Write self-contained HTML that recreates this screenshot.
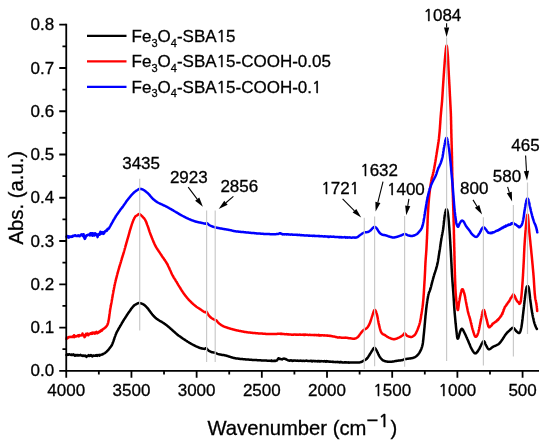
<!DOCTYPE html>
<html><head><meta charset="utf-8"><title>FTIR spectra</title>
<style>
html,body{margin:0;padding:0;background:#fff;}
body{width:550px;height:445px;overflow:hidden;}
svg{display:block;}
text{font-family:'Liberation Sans',Arial,Helvetica,sans-serif;fill:#000;stroke:#000;stroke-width:0.3px;}
.o{font-family:'NanumGothic','Liberation Sans',sans-serif;stroke-width:0.55px;}
</style></head><body>
<svg width="550" height="445" viewBox="0 0 550 445">
<rect width="550" height="445" fill="#fff"/>
<path d="M66.5,355.1 L66.8,355.1 L67.1,354.7 L67.5,354.4 L68.0,354.3 L68.5,354.7 L69.0,354.4 L69.6,354.2 L70.1,354.8 L70.7,354.8 L71.3,355.0 L71.9,354.5 L72.5,354.9 L73.1,354.9 L73.6,354.4 L74.1,355.1 L74.6,355.1 L75.0,355.8 L75.6,355.1 L76.2,355.0 L76.8,355.5 L77.3,355.1 L77.7,355.4 L78.2,355.0 L78.6,355.2 L79.1,355.5 L79.5,355.4 L80.0,355.2 L80.5,354.9 L81.0,355.4 L81.5,355.4 L82.0,355.7 L82.5,355.5 L83.0,355.9 L83.5,355.6 L84.0,355.7 L84.5,355.9 L85.0,355.5 L85.5,356.0 L86.0,356.3 L86.4,356.9 L86.9,355.9 L87.3,355.9 L87.8,355.9 L88.3,355.6 L88.8,355.1 L89.4,356.0 L90.0,355.5 L90.4,355.8 L90.9,355.1 L91.4,355.4 L91.9,356.1 L92.4,356.4 L93.0,355.7 L93.6,355.4 L94.1,355.6 L94.7,355.8 L95.2,355.6 L95.8,355.7 L96.3,355.2 L96.8,355.8 L97.2,355.9 L97.6,355.4 L98.0,355.0 L98.8,355.2 L99.3,355.6 L99.8,354.9 L100.1,355.2 L100.5,354.9 L101.0,354.9 L101.5,354.7 L102.0,354.5 L102.5,354.4 L103.0,354.0 L103.6,353.8 L104.1,353.5 L104.6,353.2 L105.0,352.9 L105.5,352.5 L106.0,352.2 L106.4,351.8 L106.8,351.5 L107.2,351.0 L107.6,350.6 L107.9,350.2 L108.3,349.9 L108.6,349.5 L109.0,349.0 L109.3,348.6 L109.7,348.2 L110.0,347.7 L110.3,347.3 L110.6,346.9 L110.9,346.5 L111.1,346.2 L111.3,345.9 L111.6,345.5 L111.9,345.0 L112.2,344.4 L112.5,343.6 L112.6,343.3 L112.8,342.9 L112.9,342.5 L113.1,342.1 L113.2,341.6 L113.4,341.2 L113.6,340.7 L113.7,340.2 L113.9,339.7 L114.1,339.2 L114.3,338.7 L114.4,338.1 L114.6,337.6 L114.8,337.1 L115.0,336.6 L115.2,336.1 L115.4,335.6 L115.5,335.1 L115.7,334.6 L115.9,334.1 L116.1,333.7 L116.3,333.2 L116.5,332.7 L116.8,332.2 L117.0,331.8 L117.2,331.3 L117.5,330.9 L117.7,330.4 L118.0,330.0 L118.2,329.5 L118.4,329.1 L118.7,328.7 L118.9,328.2 L119.2,327.8 L119.4,327.4 L119.7,327.0 L119.9,326.5 L120.2,326.1 L120.4,325.7 L120.7,325.3 L120.9,324.8 L121.2,324.4 L121.4,323.9 L121.7,323.5 L121.9,323.0 L122.2,322.6 L122.5,322.2 L122.7,321.7 L123.0,321.3 L123.2,320.9 L123.5,320.5 L123.8,320.1 L124.0,319.6 L124.3,319.2 L124.5,318.8 L124.8,318.4 L125.1,317.9 L125.4,317.5 L125.7,317.0 L126.0,316.6 L126.3,316.1 L126.6,315.7 L126.9,315.2 L127.1,314.8 L127.4,314.3 L127.7,313.9 L128.0,313.5 L128.3,313.1 L128.6,312.6 L128.9,312.2 L129.2,311.8 L129.5,311.4 L129.8,310.9 L130.2,310.4 L130.5,310.0 L130.8,309.5 L131.1,309.1 L131.4,308.6 L131.8,308.2 L132.1,307.8 L132.4,307.4 L132.7,307.0 L133.0,306.6 L133.3,306.3 L133.6,306.0 L134.1,305.5 L134.6,305.1 L135.1,304.8 L135.5,304.5 L136.0,304.3 L136.4,304.1 L136.8,303.9 L137.2,303.7 L137.8,303.4 L138.2,303.2 L138.7,303.1 L139.2,303.1 L139.8,303.1 L140.2,303.2 L140.7,303.3 L141.2,303.4 L141.7,303.6 L142.2,303.8 L142.7,304.0 L143.2,304.3 L143.7,304.6 L144.1,304.9 L144.5,305.1 L144.8,305.4 L145.2,305.8 L145.6,306.1 L145.9,306.4 L146.3,306.8 L146.7,307.2 L147.0,307.6 L147.4,308.0 L147.7,308.4 L148.0,308.7 L148.3,309.1 L148.6,309.5 L148.9,310.0 L149.2,310.4 L149.6,310.8 L149.9,311.3 L150.2,311.7 L150.5,312.1 L150.8,312.5 L151.1,312.9 L151.4,313.3 L151.8,313.7 L152.1,314.2 L152.4,314.6 L152.8,315.0 L153.1,315.4 L153.5,315.8 L153.8,316.2 L154.1,316.5 L154.5,316.9 L154.8,317.2 L155.2,317.6 L155.6,317.9 L156.0,318.3 L156.4,318.6 L156.9,318.9 L157.3,319.2 L157.7,319.4 L158.1,319.7 L158.5,320.0 L159.0,320.3 L159.4,320.6 L159.9,320.9 L160.3,321.1 L160.8,321.4 L161.3,321.6 L161.7,321.9 L162.2,322.2 L162.7,322.5 L163.1,322.8 L163.6,323.1 L164.0,323.4 L164.5,323.7 L165.0,324.0 L165.4,324.4 L165.9,324.7 L166.3,325.0 L166.7,325.3 L167.2,325.7 L167.6,326.0 L168.0,326.4 L168.4,326.7 L168.9,327.1 L169.3,327.4 L169.7,327.8 L170.1,328.2 L170.5,328.5 L170.9,328.9 L171.4,329.3 L171.8,329.6 L172.2,330.0 L172.6,330.4 L173.0,330.7 L173.4,331.1 L173.8,331.5 L174.2,331.8 L174.6,332.2 L175.0,332.6 L175.5,333.0 L175.9,333.3 L176.3,333.7 L176.7,334.1 L177.1,334.4 L177.5,334.7 L177.9,335.0 L178.3,335.4 L178.7,335.7 L179.2,335.9 L179.6,336.2 L180.0,336.5 L180.4,336.8 L180.8,337.1 L181.3,337.4 L181.7,337.7 L182.2,338.1 L182.7,338.4 L183.1,338.7 L183.6,339.0 L184.0,339.3 L184.5,339.6 L185.0,339.9 L185.4,340.2 L185.9,340.5 L186.3,340.8 L186.8,341.1 L187.3,341.4 L187.7,341.7 L188.2,342.0 L188.7,342.3 L189.1,342.6 L189.6,342.9 L190.1,343.1 L190.5,343.4 L191.0,343.7 L191.5,344.0 L191.9,344.2 L192.4,344.5 L192.8,344.7 L193.3,344.9 L193.7,345.2 L194.2,345.4 L194.6,345.6 L195.2,345.9 L195.6,346.1 L196.1,346.3 L196.6,346.5 L197.1,346.8 L197.6,347.0 L198.1,347.2 L198.6,347.4 L199.1,347.7 L199.6,347.8 L200.1,348.0 L200.6,348.2 L201.2,348.3 L201.8,348.5 L202.4,348.6 L203.0,348.7 L203.5,348.8 L204.0,348.8 L204.4,348.9 L204.8,348.9 L205.5,348.6 L205.7,348.2 L206.1,348.1 L206.4,348.3 L206.7,348.6 L207.0,349.0 L207.4,349.5 L207.8,349.9 L208.2,350.3 L208.6,350.6 L209.1,350.9 L209.5,351.1 L210.0,351.4 L210.5,351.6 L211.0,351.8 L211.5,352.0 L212.1,352.2 L212.7,352.3 L213.3,352.4 L213.9,352.5 L214.4,352.6 L214.9,352.7 L215.5,352.9 L215.8,353.1 L216.3,353.3 L216.7,353.5 L217.1,353.7 L217.5,353.9 L218.2,354.1 L219.0,354.3 L219.4,354.4 L219.8,354.5 L220.2,354.5 L220.6,354.6 L221.1,354.7 L221.6,354.8 L222.1,354.9 L222.7,354.9 L223.2,355.0 L223.8,355.1 L224.3,355.2 L224.9,355.3 L225.4,355.5 L226.0,355.6 L226.5,355.7 L226.9,355.8 L227.4,356.0 L227.9,356.1 L228.4,356.3 L228.9,356.5 L229.4,356.6 L229.9,356.8 L230.4,356.9 L230.9,357.1 L231.4,357.3 L231.9,357.4 L232.4,357.6 L232.9,357.7 L233.5,357.9 L234.0,358.0 L234.5,358.1 L235.0,358.2 L235.5,358.3 L236.0,358.4 L236.5,358.4 L237.0,358.5 L237.5,358.6 L238.0,358.6 L238.5,358.7 L239.0,358.8 L239.5,358.8 L240.0,358.9 L240.5,358.9 L241.1,359.0 L241.6,359.0 L242.1,359.1 L242.6,359.1 L243.1,359.2 L243.6,359.2 L244.1,359.2 L244.6,359.3 L245.1,359.3 L245.6,359.4 L246.1,359.4 L246.6,359.5 L247.1,359.5 L247.6,359.5 L248.2,359.6 L248.7,359.6 L249.2,359.7 L249.7,359.7 L250.2,359.7 L250.7,359.8 L251.2,359.8 L251.7,359.8 L252.2,359.9 L252.7,359.9 L253.2,359.9 L253.7,360.0 L254.2,360.0 L254.7,360.0 L255.2,360.1 L255.7,360.1 L256.2,360.1 L256.7,360.1 L257.2,360.2 L257.8,360.2 L258.3,360.2 L258.8,360.2 L259.3,360.3 L259.8,360.3 L260.3,360.3 L260.8,360.3 L261.3,360.4 L261.8,360.4 L262.3,360.4 L262.8,360.5 L263.4,360.5 L263.9,360.5 L264.4,360.5 L265.0,360.6 L265.5,360.6 L266.0,360.6 L266.6,360.6 L267.1,360.7 L267.6,360.7 L268.1,360.7 L268.6,360.7 L269.1,360.7 L269.6,360.8 L270.1,360.8 L270.5,360.7 L270.9,360.9 L271.6,360.4 L272.3,360.9 L272.9,360.9 L273.5,360.8 L274.0,361.0 L274.6,360.9 L275.0,360.6 L275.5,360.9 L275.9,360.7 L276.3,360.7 L276.8,360.5 L277.2,360.3 L277.5,359.6 L277.8,359.1 L278.1,358.8 L278.4,358.2 L278.9,358.7 L279.4,358.5 L279.9,359.0 L280.4,359.0 L280.9,359.2 L281.4,359.2 L282.0,359.4 L282.5,359.0 L283.0,358.7 L283.5,358.7 L284.1,358.6 L284.6,358.8 L285.3,358.9 L285.7,359.3 L286.0,359.1 L286.4,359.5 L286.8,359.7 L287.4,359.9 L288.0,360.4 L288.9,360.4 L289.3,360.5 L289.6,360.7 L290.0,360.7 L290.4,360.3 L290.9,360.6 L291.3,360.3 L291.8,360.6 L292.3,360.9 L292.8,360.6 L293.3,360.6 L293.8,360.7 L294.4,360.6 L294.9,360.6 L295.5,360.5 L296.1,360.8 L296.7,360.8 L297.3,360.6 L297.9,360.7 L298.5,360.8 L299.1,360.9 L299.5,360.8 L300.0,360.8 L300.4,360.7 L300.9,360.6 L301.3,360.7 L301.8,360.9 L302.3,360.9 L302.8,360.8 L303.3,360.7 L303.8,360.8 L304.3,361.1 L304.8,361.0 L305.3,360.7 L305.8,360.8 L306.3,360.6 L306.9,360.7 L307.4,360.9 L307.9,360.9 L308.4,361.0 L308.9,361.1 L309.5,361.0 L310.0,361.1 L310.5,360.8 L311.0,360.8 L311.6,361.0 L312.1,361.4 L312.6,361.0 L313.1,360.8 L313.6,361.0 L314.1,361.2 L314.6,360.9 L315.1,361.2 L315.6,361.0 L316.1,361.3 L316.7,361.2 L317.2,361.1 L317.7,361.4 L318.2,361.1 L318.7,361.0 L319.3,361.4 L319.8,361.1 L320.3,361.5 L320.8,361.2 L321.3,361.1 L321.9,361.3 L322.4,361.3 L322.9,361.3 L323.4,361.3 L323.9,361.5 L324.4,361.0 L324.9,361.3 L325.4,361.3 L325.9,361.7 L326.3,361.1 L326.8,361.4 L327.3,361.3 L327.7,361.4 L328.2,361.6 L328.8,361.6 L329.3,361.8 L329.9,361.5 L330.4,361.7 L330.9,361.8 L331.5,361.8 L332.0,361.7 L332.5,361.9 L333.0,361.6 L333.5,362.1 L334.0,361.9 L334.5,361.9 L335.0,362.0 L335.5,362.1 L336.0,362.2 L336.5,362.0 L336.9,362.0 L337.4,362.2 L337.9,362.0 L338.4,361.9 L338.9,362.3 L339.3,362.1 L339.8,362.4 L340.3,362.1 L340.9,361.8 L341.4,362.3 L341.9,362.3 L342.5,362.6 L343.0,362.4 L343.5,362.4 L344.0,362.5 L344.5,362.3 L345.0,362.4 L345.5,362.2 L346.0,362.5 L346.5,362.3 L347.0,362.4 L347.5,362.6 L348.0,362.6 L348.5,362.3 L349.0,362.8 L349.5,362.4 L350.0,362.5 L350.5,362.5 L351.1,362.5 L351.7,362.5 L352.2,362.5 L352.8,362.5 L353.4,362.6 L353.9,362.6 L354.5,362.6 L355.1,362.6 L355.6,362.6 L356.2,362.6 L356.7,362.6 L357.2,362.6 L357.7,362.5 L358.1,362.5 L358.6,362.5 L359.0,362.4 L359.4,362.4 L360.1,362.3 L360.7,362.1 L361.2,362.0 L361.7,361.8 L362.1,361.6 L362.5,361.4 L362.9,361.1 L363.3,360.9 L363.7,360.7 L364.2,360.4 L364.7,360.2 L365.2,359.9 L365.6,359.7 L366.1,359.3 L366.5,359.0 L367.0,358.5 L367.3,358.2 L367.6,357.8 L367.9,357.3 L368.2,356.9 L368.5,356.4 L368.8,355.9 L369.1,355.5 L369.4,355.0 L369.7,354.5 L370.0,354.0 L370.3,353.6 L370.6,353.1 L370.9,352.7 L371.2,352.2 L371.5,351.7 L371.8,351.2 L372.0,350.8 L372.3,350.4 L372.5,350.0 L372.8,349.6 L373.0,349.3 L373.5,348.6 L373.8,348.1 L374.2,347.9 L374.6,347.9 L374.9,348.1 L375.2,348.4 L375.5,348.7 L375.8,349.2 L376.1,349.7 L376.5,350.3 L376.8,350.9 L377.0,351.3 L377.2,351.7 L377.4,352.1 L377.6,352.6 L377.9,353.1 L378.1,353.6 L378.3,354.1 L378.5,354.6 L378.8,355.1 L379.0,355.6 L379.3,356.0 L379.5,356.4 L379.8,356.9 L380.1,357.3 L380.4,357.7 L380.8,358.2 L381.1,358.6 L381.4,358.9 L381.8,359.3 L382.1,359.6 L382.4,359.9 L382.8,360.2 L383.2,360.5 L383.7,360.7 L384.2,360.9 L384.6,361.1 L385.1,361.2 L385.6,361.3 L386.1,361.4 L386.6,361.5 L387.1,361.6 L387.6,361.7 L388.2,361.7 L388.7,361.8 L389.3,361.8 L389.8,361.8 L390.4,361.8 L391.0,361.8 L391.5,361.8 L392.0,361.7 L392.5,361.6 L393.1,361.5 L393.6,361.4 L394.2,361.3 L394.7,361.2 L395.3,361.1 L395.9,361.0 L396.4,360.9 L396.9,360.8 L397.4,360.8 L398.0,360.7 L398.5,360.6 L399.0,360.6 L399.5,360.5 L400.1,360.5 L400.6,360.4 L401.0,360.3 L401.5,360.3 L401.9,360.2 L402.5,360.0 L403.0,359.9 L403.5,359.7 L403.9,359.5 L404.5,359.3 L405.2,359.1 L405.6,359.0 L406.1,359.0 L406.6,358.9 L407.1,358.8 L407.6,358.7 L408.2,358.7 L408.8,358.6 L409.3,358.5 L409.9,358.5 L410.4,358.4 L410.9,358.3 L411.3,358.3 L411.7,358.2 L412.5,358.0 L413.1,357.9 L413.6,357.7 L414.0,357.5 L414.5,357.3 L415.0,357.1 L415.5,356.8 L415.9,356.5 L416.4,356.2 L416.8,355.8 L417.2,355.5 L417.5,355.1 L417.9,354.7 L418.3,354.3 L418.6,353.8 L419.0,353.3 L419.3,352.9 L419.5,352.5 L419.8,352.1 L420.0,351.7 L420.3,351.2 L420.5,350.7 L420.8,350.2 L421.0,349.7 L421.2,349.3 L421.4,348.8 L421.5,348.3 L421.7,347.9 L421.9,347.4 L422.0,346.9 L422.2,346.3 L422.3,345.7 L422.5,345.1 L422.6,344.5 L422.7,344.1 L422.8,343.7 L422.8,343.2 L422.9,342.8 L423.0,342.3 L423.0,341.8 L423.1,341.3 L423.1,340.8 L423.2,340.3 L423.3,339.8 L423.3,339.3 L423.4,338.7 L423.4,338.2 L423.5,337.6 L423.5,337.1 L423.6,336.5 L423.6,336.1 L423.7,335.6 L423.7,335.1 L423.8,334.7 L423.8,334.2 L423.9,333.7 L423.9,333.2 L424.0,332.7 L424.0,332.2 L424.1,331.7 L424.1,331.2 L424.2,330.7 L424.2,330.1 L424.3,329.6 L424.3,329.1 L424.4,328.6 L424.4,328.1 L424.5,327.5 L424.5,327.0 L424.6,326.5 L424.6,326.0 L424.6,325.5 L424.7,325.0 L424.7,324.5 L424.8,324.0 L424.8,323.5 L424.9,323.0 L424.9,322.6 L425.0,322.1 L425.0,321.6 L425.0,321.1 L425.1,320.6 L425.1,320.1 L425.2,319.6 L425.2,319.1 L425.3,318.6 L425.3,318.0 L425.4,317.5 L425.4,317.0 L425.4,316.5 L425.5,316.0 L425.5,315.5 L425.6,315.0 L425.7,314.5 L425.7,314.0 L425.8,313.5 L425.8,313.0 L425.9,312.5 L425.9,312.0 L426.0,311.5 L426.0,311.0 L426.1,310.4 L426.1,309.9 L426.2,309.4 L426.2,308.9 L426.3,308.4 L426.3,307.9 L426.4,307.4 L426.5,306.9 L426.5,306.4 L426.6,305.9 L426.6,305.4 L426.7,304.9 L426.8,304.4 L426.8,304.0 L426.9,303.5 L427.0,302.9 L427.1,302.4 L427.1,301.8 L427.2,301.3 L427.3,300.7 L427.4,300.2 L427.5,299.6 L427.6,299.1 L427.7,298.6 L427.8,298.1 L427.9,297.6 L428.0,297.1 L428.0,296.6 L428.1,296.1 L428.2,295.7 L428.3,295.2 L428.4,294.8 L428.5,294.4 L428.6,294.0 L428.8,293.3 L428.9,292.8 L429.1,292.4 L429.3,292.0 L429.4,291.6 L429.6,291.2 L429.8,290.7 L430.0,290.1 L430.3,289.3 L430.4,289.0 L430.5,288.6 L430.6,288.2 L430.7,287.8 L430.8,287.4 L431.0,286.9 L431.1,286.5 L431.2,286.0 L431.3,285.5 L431.4,285.0 L431.6,284.5 L431.7,284.0 L431.8,283.5 L432.0,282.9 L432.1,282.4 L432.2,281.9 L432.4,281.4 L432.5,280.8 L432.7,280.3 L432.8,279.8 L432.9,279.2 L433.1,278.7 L433.2,278.2 L433.4,277.7 L433.5,277.2 L433.6,276.7 L433.8,276.2 L433.9,275.7 L434.1,275.3 L434.2,274.8 L434.4,274.3 L434.5,273.8 L434.7,273.3 L434.8,272.9 L435.0,272.4 L435.2,271.9 L435.3,271.4 L435.5,270.9 L435.6,270.4 L435.8,269.9 L435.9,269.5 L436.1,269.0 L436.2,268.5 L436.4,267.9 L436.5,267.4 L436.7,266.9 L436.8,266.4 L436.9,265.9 L437.1,265.3 L437.2,264.8 L437.3,264.3 L437.4,263.9 L437.5,263.4 L437.6,262.9 L437.7,262.4 L437.8,261.9 L437.9,261.5 L438.0,261.0 L438.1,260.4 L438.1,259.9 L438.2,259.4 L438.3,258.9 L438.4,258.4 L438.5,257.9 L438.6,257.4 L438.6,256.9 L438.7,256.3 L438.8,255.8 L438.9,255.3 L439.0,254.8 L439.0,254.3 L439.1,253.8 L439.2,253.3 L439.3,252.8 L439.3,252.3 L439.4,251.9 L439.5,251.4 L439.6,250.9 L439.6,250.5 L439.7,250.0 L439.8,249.4 L439.9,248.9 L440.0,248.3 L440.0,247.8 L440.1,247.3 L440.2,246.7 L440.3,246.2 L440.4,245.7 L440.4,245.1 L440.5,244.6 L440.6,244.1 L440.7,243.6 L440.7,243.1 L440.8,242.6 L440.9,242.1 L440.9,241.7 L441.0,241.2 L441.1,240.7 L441.2,240.2 L441.2,239.8 L441.3,239.3 L441.4,238.9 L441.4,238.4 L441.5,238.0 L441.6,237.4 L441.7,236.9 L441.8,236.3 L441.9,235.9 L442.0,235.4 L442.1,234.9 L442.2,234.5 L442.3,234.1 L442.3,233.6 L442.4,233.2 L442.5,232.7 L442.6,232.2 L442.7,231.7 L442.8,231.2 L442.9,230.6 L443.0,230.0 L443.1,229.3 L443.2,228.9 L443.2,228.5 L443.3,228.0 L443.3,227.5 L443.4,227.0 L443.5,226.5 L443.5,226.0 L443.6,225.5 L443.6,224.9 L443.7,224.4 L443.8,223.8 L443.8,223.3 L443.9,222.7 L443.9,222.1 L444.0,221.6 L444.1,221.0 L444.1,220.4 L444.2,219.9 L444.3,219.3 L444.3,218.8 L444.4,218.3 L444.4,217.7 L444.5,217.2 L444.6,216.8 L444.6,216.3 L444.7,215.8 L444.7,215.4 L444.8,215.0 L444.8,214.6 L444.9,214.3 L445.1,213.4 L445.2,212.5 L445.4,211.8 L445.5,211.2 L445.7,210.6 L445.8,210.2 L446.0,209.8 L446.1,209.6 L446.3,209.4 L446.4,209.3 L446.6,209.3 L446.8,209.4 L447.0,209.6 L447.1,209.9 L447.3,210.5 L447.5,211.2 L447.7,212.1 L447.9,213.2 L447.9,213.5 L448.0,213.9 L448.0,214.2 L448.1,214.6 L448.1,215.0 L448.2,215.4 L448.2,215.8 L448.3,216.3 L448.3,216.7 L448.4,217.2 L448.4,217.7 L448.5,218.1 L448.5,218.6 L448.6,219.2 L448.6,219.7 L448.7,220.2 L448.7,220.7 L448.8,221.3 L448.8,221.8 L448.9,222.4 L448.9,223.0 L448.9,223.5 L449.0,224.1 L449.0,224.7 L449.1,225.2 L449.1,225.8 L449.2,226.4 L449.2,227.0 L449.3,227.6 L449.3,228.1 L449.4,228.7 L449.4,229.3 L449.4,229.7 L449.5,230.2 L449.5,230.7 L449.5,231.1 L449.6,231.6 L449.6,232.0 L449.6,232.5 L449.7,233.0 L449.7,233.4 L449.7,233.9 L449.8,234.4 L449.8,234.9 L449.8,235.3 L449.9,235.8 L449.9,236.3 L449.9,236.8 L449.9,237.3 L450.0,237.8 L450.0,238.3 L450.0,238.8 L450.1,239.3 L450.1,239.8 L450.1,240.3 L450.2,240.8 L450.2,241.3 L450.2,241.8 L450.3,242.4 L450.3,242.9 L450.3,243.4 L450.3,243.9 L450.4,244.5 L450.4,245.0 L450.4,245.6 L450.5,246.1 L450.5,246.6 L450.5,247.2 L450.6,247.8 L450.6,248.3 L450.6,248.9 L450.7,249.4 L450.7,250.0 L450.7,250.5 L450.8,250.9 L450.8,251.4 L450.8,251.8 L450.8,252.3 L450.9,252.8 L450.9,253.3 L450.9,253.8 L450.9,254.3 L451.0,254.8 L451.0,255.3 L451.0,255.8 L451.0,256.3 L451.1,256.8 L451.1,257.4 L451.1,257.9 L451.2,258.4 L451.2,258.9 L451.2,259.5 L451.2,260.0 L451.3,260.5 L451.3,261.0 L451.3,261.6 L451.3,262.1 L451.4,262.6 L451.4,263.2 L451.4,263.7 L451.5,264.2 L451.5,264.8 L451.5,265.3 L451.5,265.8 L451.6,266.3 L451.6,266.9 L451.6,267.4 L451.6,267.9 L451.7,268.4 L451.7,268.9 L451.7,269.4 L451.8,269.9 L451.8,270.4 L451.8,270.9 L451.8,271.4 L451.9,271.9 L451.9,272.4 L451.9,272.9 L451.9,273.3 L452.0,273.8 L452.0,274.3 L452.0,274.7 L452.0,275.1 L452.1,275.6 L452.1,276.0 L452.1,276.6 L452.2,277.2 L452.2,277.8 L452.3,278.4 L452.3,279.0 L452.3,279.5 L452.4,280.1 L452.4,280.6 L452.4,281.2 L452.5,281.7 L452.5,282.2 L452.6,282.7 L452.6,283.2 L452.6,283.7 L452.7,284.2 L452.7,284.7 L452.7,285.2 L452.8,285.7 L452.8,286.2 L452.9,286.6 L452.9,287.1 L452.9,287.6 L453.0,288.1 L453.0,288.5 L453.0,289.0 L453.1,289.5 L453.1,290.0 L453.1,290.4 L453.2,290.9 L453.2,291.4 L453.3,291.9 L453.3,292.4 L453.3,292.9 L453.4,293.4 L453.4,293.9 L453.4,294.4 L453.5,294.9 L453.5,295.4 L453.5,295.9 L453.6,296.4 L453.6,296.9 L453.6,297.4 L453.7,297.9 L453.7,298.4 L453.7,298.8 L453.7,299.3 L453.8,299.8 L453.8,300.3 L453.8,300.8 L453.9,301.3 L453.9,301.8 L453.9,302.3 L454.0,302.8 L454.0,303.3 L454.0,303.8 L454.0,304.3 L454.1,304.8 L454.1,305.3 L454.1,305.8 L454.2,306.3 L454.2,306.8 L454.2,307.3 L454.3,307.8 L454.3,308.3 L454.4,308.8 L454.4,309.4 L454.4,309.9 L454.5,310.4 L454.5,310.9 L454.6,311.5 L454.6,312.0 L454.6,312.5 L454.7,313.0 L454.7,313.5 L454.8,314.0 L454.8,314.5 L454.9,315.1 L454.9,315.6 L455.0,316.2 L455.0,316.7 L455.1,317.3 L455.1,317.8 L455.2,318.4 L455.2,319.0 L455.3,319.5 L455.3,320.1 L455.4,320.7 L455.4,321.2 L455.5,321.8 L455.5,322.4 L455.6,322.9 L455.6,323.5 L455.7,324.1 L455.8,324.6 L455.8,325.1 L455.9,325.7 L455.9,326.2 L456.0,326.7 L456.0,327.2 L456.1,327.7 L456.1,328.2 L456.2,328.7 L456.2,329.2 L456.3,329.6 L456.3,330.1 L456.4,330.5 L456.4,330.9 L456.5,331.3 L456.5,331.7 L456.6,332.1 L456.6,332.4 L456.7,333.5 L456.8,334.4 L457.0,335.3 L457.0,336.0 L457.1,336.7 L457.2,337.3 L457.3,337.7 L457.4,338.1 L457.5,338.4 L457.6,338.6 L457.8,338.7 L457.9,338.7 L458.0,338.6 L458.2,338.4 L458.3,338.1 L458.5,337.6 L458.6,337.1 L458.8,336.6 L458.9,336.0 L459.1,335.3 L459.3,334.7 L459.4,334.1 L459.6,333.4 L459.8,332.9 L459.9,332.3 L460.1,331.9 L460.2,331.5 L460.5,330.7 L460.8,330.0 L461.1,329.4 L461.4,329.0 L461.7,328.8 L462.0,328.8 L462.2,328.9 L462.5,329.2 L462.7,329.5 L463.0,329.9 L463.2,330.4 L463.5,330.9 L463.8,331.5 L464.1,332.1 L464.4,332.7 L464.7,333.3 L464.9,333.7 L465.1,334.1 L465.3,334.5 L465.5,334.9 L465.7,335.4 L465.9,335.9 L466.1,336.3 L466.3,336.8 L466.6,337.3 L466.8,337.8 L467.0,338.3 L467.2,338.8 L467.4,339.3 L467.7,339.8 L467.9,340.3 L468.1,340.8 L468.3,341.3 L468.5,341.8 L468.7,342.3 L468.9,342.8 L469.1,343.3 L469.4,343.8 L469.6,344.3 L469.8,344.8 L470.0,345.3 L470.2,345.9 L470.4,346.4 L470.6,346.8 L470.8,347.3 L471.1,347.8 L471.3,348.2 L471.5,348.6 L471.7,349.0 L471.9,349.4 L472.3,350.0 L472.6,350.6 L473.0,351.2 L473.3,351.7 L473.7,352.2 L474.0,352.6 L474.3,352.9 L474.7,353.2 L475.0,353.3 L475.4,353.4 L475.8,353.3 L476.1,353.2 L476.4,352.9 L476.8,352.5 L477.1,352.1 L477.5,351.6 L477.9,351.1 L478.2,350.5 L478.6,349.9 L479.0,349.3 L479.2,348.9 L479.5,348.5 L479.7,348.0 L480.0,347.5 L480.2,347.0 L480.5,346.4 L480.8,345.9 L481.0,345.3 L481.3,344.7 L481.6,344.2 L481.8,343.6 L482.1,343.1 L482.4,342.6 L482.6,342.2 L482.8,341.9 L483.1,341.6 L483.3,341.3 L483.5,341.2 L483.8,341.1 L484.2,341.3 L484.4,341.7 L484.7,342.1 L485.0,342.7 L485.2,343.4 L485.4,344.0 L485.7,344.7 L485.9,345.2 L486.2,345.7 L486.5,346.2 L486.8,346.7 L487.0,347.2 L487.3,347.7 L487.6,348.2 L487.9,348.6 L488.2,348.9 L488.5,349.2 L488.9,349.3 L489.3,349.3 L489.7,349.2 L490.1,349.0 L490.5,348.7 L491.0,348.3 L491.4,348.0 L491.9,347.6 L492.4,347.2 L492.9,346.9 L493.4,346.6 L493.8,346.4 L494.3,346.2 L494.7,346.0 L495.2,345.8 L495.7,345.6 L496.2,345.4 L496.6,345.2 L497.1,344.9 L497.6,344.7 L498.0,344.5 L498.4,344.2 L498.8,343.9 L499.2,343.6 L499.6,343.2 L499.9,342.8 L500.2,342.4 L500.6,342.0 L500.9,341.6 L501.2,341.2 L501.5,340.7 L501.8,340.3 L502.1,339.8 L502.4,339.4 L502.7,339.0 L503.0,338.5 L503.3,338.1 L503.6,337.6 L503.9,337.1 L504.2,336.6 L504.5,336.2 L504.8,335.7 L505.1,335.2 L505.4,334.8 L505.7,334.4 L506.0,334.0 L506.4,333.6 L506.7,333.1 L507.1,332.8 L507.4,332.4 L507.8,332.0 L508.2,331.7 L508.5,331.3 L508.9,331.0 L509.2,330.7 L509.6,330.4 L510.0,330.0 L510.5,329.5 L510.9,329.1 L511.4,328.7 L511.8,328.3 L512.2,328.0 L512.7,327.8 L513.1,327.8 L513.5,327.9 L513.9,328.2 L514.3,328.6 L514.6,329.0 L515.0,329.5 L515.4,330.0 L515.8,330.5 L516.1,331.0 L516.5,331.3 L517.0,331.8 L517.6,332.3 L518.1,332.7 L518.6,333.0 L519.1,333.1 L519.5,332.9 L519.7,332.7 L519.9,332.4 L520.0,332.1 L520.2,331.8 L520.4,331.3 L520.5,330.9 L520.7,330.4 L520.8,329.8 L520.9,329.3 L521.1,328.6 L521.2,328.0 L521.4,327.3 L521.5,326.6 L521.6,326.2 L521.6,325.8 L521.7,325.4 L521.8,325.0 L521.8,324.5 L521.9,324.0 L522.0,323.6 L522.0,323.1 L522.1,322.6 L522.2,322.1 L522.2,321.6 L522.3,321.1 L522.4,320.5 L522.4,320.0 L522.5,319.5 L522.5,318.9 L522.6,318.4 L522.7,317.8 L522.7,317.3 L522.8,316.7 L522.8,316.2 L522.9,315.6 L523.0,315.1 L523.0,314.5 L523.1,314.0 L523.2,313.5 L523.2,313.0 L523.3,312.5 L523.3,312.0 L523.4,311.5 L523.4,311.0 L523.5,310.5 L523.6,310.0 L523.6,309.5 L523.7,308.9 L523.7,308.4 L523.8,307.9 L523.8,307.4 L523.9,306.9 L524.0,306.3 L524.0,305.8 L524.1,305.3 L524.1,304.8 L524.2,304.3 L524.3,303.7 L524.3,303.2 L524.4,302.7 L524.4,302.3 L524.5,301.8 L524.5,301.3 L524.6,300.8 L524.6,300.4 L524.7,299.9 L524.8,299.3 L524.8,298.8 L524.9,298.2 L525.0,297.6 L525.1,297.0 L525.1,296.5 L525.2,295.9 L525.3,295.3 L525.3,294.8 L525.4,294.2 L525.5,293.7 L525.5,293.2 L525.6,292.7 L525.7,292.2 L525.7,291.7 L525.8,291.2 L525.9,290.8 L525.9,290.4 L526.0,290.0 L526.1,289.6 L526.1,289.2 L526.2,288.9 L526.5,287.7 L526.7,287.0 L527.0,286.5 L527.2,286.3 L527.5,286.2 L527.7,286.2 L528.0,286.3 L528.2,286.6 L528.4,287.1 L528.7,287.8 L528.9,288.9 L529.0,289.2 L529.0,289.6 L529.1,290.0 L529.1,290.4 L529.2,290.8 L529.3,291.3 L529.3,291.8 L529.4,292.3 L529.5,292.8 L529.5,293.3 L529.6,293.8 L529.7,294.4 L529.7,295.0 L529.8,295.5 L529.9,296.1 L529.9,296.7 L530.0,297.2 L530.0,297.8 L530.1,298.4 L530.2,298.9 L530.2,299.5 L530.3,300.0 L530.4,300.5 L530.4,301.0 L530.5,301.5 L530.6,302.0 L530.6,302.6 L530.7,303.1 L530.8,303.6 L530.9,304.1 L530.9,304.7 L531.0,305.2 L531.1,305.7 L531.1,306.2 L531.2,306.7 L531.3,307.2 L531.3,307.7 L531.4,308.2 L531.5,308.7 L531.6,309.2 L531.6,309.7 L531.7,310.1 L531.8,310.6 L531.9,311.1 L531.9,311.6 L532.0,312.0 L532.1,312.5 L532.2,313.0 L532.3,313.6 L532.4,314.1 L532.5,314.7 L532.6,315.2 L532.7,315.7 L532.8,316.3 L532.9,316.8 L533.0,317.3 L533.2,317.9 L533.3,318.4 L533.4,318.9 L533.5,319.3 L533.6,319.8 L533.7,320.3 L533.8,320.7 L533.9,321.1 L534.0,321.5 L534.1,321.9 L534.3,322.6 L534.5,323.3 L534.7,323.9 L534.9,324.4 L535.0,324.9 L535.2,325.4 L535.4,325.8 L535.5,326.2 L535.7,326.6 L536.0,327.3 L536.3,327.8 L536.5,328.3 L536.7,328.7 L536.9,329.0" fill="none" stroke="#000000" stroke-width="2.5" stroke-linejoin="round" stroke-linecap="round"/>
<path d="M66.5,339.0 L66.8,337.6 L67.1,338.0 L67.5,337.8 L67.9,338.0 L68.4,337.0 L68.9,337.3 L69.5,337.1 L70.0,336.8 L70.6,336.9 L71.2,336.9 L71.8,336.9 L72.4,336.5 L72.9,337.0 L73.5,336.5 L74.0,335.2 L74.5,337.1 L75.0,336.3 L75.5,336.1 L76.1,336.4 L76.6,336.3 L77.0,336.1 L77.5,335.6 L78.0,336.0 L78.5,335.2 L78.9,336.4 L79.4,335.1 L79.9,335.5 L80.4,335.5 L80.9,335.5 L81.4,335.2 L82.0,335.4 L82.5,333.5 L82.9,334.9 L83.4,334.8 L84.0,335.2 L84.5,337.1 L85.0,336.6 L85.5,335.8 L86.1,333.7 L86.6,334.6 L87.2,333.7 L87.7,333.6 L88.3,335.3 L88.8,334.5 L89.3,334.1 L89.8,334.1 L90.3,333.3 L90.8,333.4 L91.3,333.9 L91.9,332.7 L92.5,333.6 L93.1,332.6 L93.7,333.3 L94.2,332.6 L94.8,333.7 L95.4,333.3 L95.9,332.4 L96.4,331.8 L96.9,332.6 L97.3,333.3 L97.8,332.6 L98.2,332.7 L98.5,332.6 L99.3,331.6 L99.7,331.3 L100.0,331.7 L100.4,330.9 L100.8,331.1 L101.2,330.4 L101.7,330.8 L102.2,329.9 L102.6,329.3 L103.1,329.3 L103.5,328.9 L103.9,328.5 L104.3,328.3 L104.7,328.1 L105.1,327.5 L105.5,327.3 L105.8,327.0 L106.2,326.6 L106.5,326.2 L106.8,325.8 L107.1,325.3 L107.4,324.8 L107.6,324.3 L107.8,323.9 L107.9,323.5 L108.0,323.1 L108.2,322.6 L108.3,322.1 L108.4,321.5 L108.5,320.8 L108.7,320.0 L108.8,319.6 L108.8,319.2 L108.9,318.8 L109.0,318.4 L109.0,317.9 L109.1,317.4 L109.2,317.0 L109.2,316.4 L109.3,315.9 L109.4,315.4 L109.4,314.9 L109.5,314.3 L109.6,313.8 L109.7,313.2 L109.7,312.7 L109.8,312.2 L109.9,311.6 L110.0,311.1 L110.0,310.6 L110.1,310.1 L110.2,309.6 L110.3,309.1 L110.4,308.6 L110.4,308.1 L110.5,307.6 L110.6,307.2 L110.7,306.7 L110.8,306.3 L110.8,305.8 L110.9,305.4 L111.0,304.9 L111.1,304.4 L111.2,303.9 L111.3,303.4 L111.4,302.9 L111.5,302.4 L111.6,301.8 L111.7,301.3 L111.8,300.6 L111.9,300.0 L112.0,299.6 L112.1,299.2 L112.1,298.7 L112.2,298.3 L112.3,297.8 L112.4,297.3 L112.5,296.8 L112.6,296.3 L112.6,295.8 L112.7,295.3 L112.8,294.8 L112.9,294.3 L113.0,293.8 L113.1,293.2 L113.2,292.7 L113.3,292.2 L113.4,291.6 L113.5,291.1 L113.6,290.6 L113.7,290.0 L113.8,289.5 L113.9,288.9 L114.0,288.4 L114.1,287.9 L114.2,287.4 L114.3,286.9 L114.4,286.3 L114.5,285.8 L114.6,285.4 L114.7,284.9 L114.8,284.4 L114.9,283.9 L115.0,283.3 L115.2,282.8 L115.3,282.3 L115.4,281.8 L115.5,281.2 L115.6,280.7 L115.8,280.2 L115.9,279.7 L116.0,279.2 L116.1,278.7 L116.3,278.2 L116.4,277.7 L116.5,277.2 L116.7,276.7 L116.8,276.2 L116.9,275.7 L117.0,275.2 L117.2,274.8 L117.3,274.3 L117.4,273.8 L117.6,273.3 L117.7,272.9 L117.8,272.4 L117.9,271.9 L118.1,271.5 L118.2,271.0 L118.3,270.5 L118.5,269.9 L118.7,269.4 L118.8,268.8 L119.0,268.3 L119.1,267.8 L119.3,267.2 L119.4,266.7 L119.6,266.2 L119.7,265.7 L119.9,265.2 L120.0,264.7 L120.2,264.1 L120.3,263.7 L120.5,263.2 L120.6,262.7 L120.8,262.2 L120.9,261.7 L121.1,261.3 L121.2,260.8 L121.3,260.4 L121.5,259.9 L121.6,259.5 L121.8,258.9 L121.9,258.3 L122.1,257.8 L122.3,257.3 L122.4,256.8 L122.6,256.3 L122.7,255.8 L122.9,255.3 L123.0,254.9 L123.2,254.4 L123.3,253.9 L123.4,253.5 L123.6,253.0 L123.7,252.6 L123.9,252.1 L124.0,251.6 L124.1,251.1 L124.3,250.6 L124.4,250.1 L124.6,249.6 L124.7,249.1 L124.8,248.6 L125.0,248.1 L125.1,247.7 L125.2,247.2 L125.4,246.7 L125.5,246.2 L125.6,245.7 L125.8,245.2 L125.9,244.7 L126.1,244.2 L126.2,243.7 L126.3,243.2 L126.5,242.7 L126.6,242.2 L126.8,241.7 L126.9,241.2 L127.1,240.7 L127.2,240.2 L127.3,239.7 L127.5,239.2 L127.6,238.8 L127.8,238.3 L127.9,237.8 L128.1,237.3 L128.2,236.8 L128.4,236.3 L128.5,235.8 L128.6,235.3 L128.8,234.8 L128.9,234.3 L129.1,233.8 L129.2,233.3 L129.3,232.8 L129.5,232.3 L129.6,231.8 L129.7,231.3 L129.9,230.8 L130.0,230.4 L130.1,229.9 L130.3,229.4 L130.4,228.9 L130.6,228.5 L130.7,228.0 L130.9,227.5 L131.0,227.0 L131.2,226.4 L131.4,225.9 L131.5,225.4 L131.7,224.9 L131.8,224.4 L132.0,223.9 L132.2,223.4 L132.3,222.9 L132.5,222.5 L132.7,222.0 L132.8,221.6 L133.0,221.2 L133.2,220.6 L133.4,220.1 L133.7,219.6 L133.9,219.1 L134.1,218.6 L134.3,218.2 L134.5,217.8 L134.8,217.4 L135.0,217.0 L135.2,216.7 L135.7,216.2 L136.1,215.8 L136.6,215.6 L137.1,215.3 L137.5,215.1 L138.0,214.7 L138.3,214.3 L138.8,214.0 L139.3,214.0 L139.6,214.1 L140.0,214.4 L140.4,214.7 L140.8,215.0 L141.2,215.4 L141.6,215.8 L142.0,216.2 L142.4,216.6 L142.8,216.9 L143.1,217.3 L143.4,217.6 L143.8,218.0 L144.1,218.3 L144.4,218.7 L144.8,219.2 L145.1,219.8 L145.3,220.2 L145.5,220.6 L145.7,221.0 L145.9,221.4 L146.1,221.9 L146.3,222.3 L146.5,222.8 L146.6,223.3 L146.8,223.8 L147.0,224.3 L147.2,224.9 L147.4,225.4 L147.6,225.9 L147.8,226.4 L148.0,226.8 L148.1,227.3 L148.3,227.8 L148.5,228.3 L148.6,228.7 L148.8,229.2 L148.9,229.7 L149.1,230.2 L149.3,230.7 L149.4,231.2 L149.6,231.7 L149.7,232.1 L149.9,232.6 L150.1,233.1 L150.2,233.5 L150.4,234.0 L150.6,234.5 L150.8,235.0 L151.0,235.5 L151.2,236.0 L151.4,236.5 L151.6,237.0 L151.7,237.5 L151.9,237.9 L152.1,238.4 L152.3,238.9 L152.5,239.3 L152.7,239.8 L152.9,240.2 L153.1,240.7 L153.3,241.2 L153.5,241.7 L153.7,242.2 L153.9,242.7 L154.2,243.2 L154.4,243.7 L154.6,244.2 L154.8,244.6 L155.0,245.1 L155.3,245.6 L155.5,246.1 L155.8,246.6 L156.0,247.0 L156.3,247.4 L156.6,247.9 L156.8,248.3 L157.1,248.8 L157.4,249.2 L157.7,249.7 L158.0,250.1 L158.3,250.5 L158.6,251.0 L158.9,251.4 L159.2,251.8 L159.4,252.2 L159.7,252.6 L159.9,252.9 L160.3,253.5 L160.6,253.9 L160.8,254.4 L161.1,254.7 L161.3,255.1 L161.6,255.5 L161.9,256.0 L162.3,256.6 L162.5,257.0 L162.8,257.3 L163.1,257.7 L163.4,258.1 L163.7,258.6 L164.0,259.0 L164.3,259.5 L164.6,259.9 L165.0,260.4 L165.3,260.9 L165.6,261.3 L165.9,261.8 L166.2,262.2 L166.4,262.7 L166.7,263.1 L167.0,263.6 L167.2,264.0 L167.5,264.5 L167.7,264.9 L167.9,265.4 L168.1,265.8 L168.3,266.3 L168.6,266.7 L168.8,267.2 L169.0,267.6 L169.2,268.1 L169.4,268.5 L169.6,269.0 L169.8,269.5 L170.0,269.9 L170.3,270.4 L170.5,270.9 L170.7,271.4 L170.9,271.9 L171.1,272.4 L171.3,272.9 L171.5,273.4 L171.8,273.9 L172.0,274.3 L172.3,274.8 L172.5,275.3 L172.7,275.7 L173.0,276.2 L173.2,276.6 L173.5,277.0 L173.7,277.5 L174.0,277.9 L174.3,278.3 L174.5,278.7 L174.8,279.2 L175.1,279.6 L175.4,280.0 L175.6,280.5 L175.9,280.9 L176.2,281.4 L176.5,281.8 L176.7,282.2 L177.0,282.7 L177.2,283.1 L177.5,283.6 L177.8,284.0 L178.0,284.5 L178.3,284.9 L178.6,285.4 L178.9,285.8 L179.1,286.3 L179.4,286.7 L179.7,287.2 L180.0,287.6 L180.2,288.1 L180.5,288.5 L180.8,289.0 L181.1,289.4 L181.4,289.9 L181.6,290.3 L181.9,290.8 L182.2,291.2 L182.5,291.7 L182.8,292.1 L183.1,292.5 L183.4,293.0 L183.7,293.4 L184.0,293.8 L184.3,294.3 L184.6,294.7 L184.9,295.1 L185.2,295.5 L185.5,295.9 L185.9,296.3 L186.2,296.7 L186.5,297.1 L186.9,297.5 L187.2,297.9 L187.5,298.3 L187.9,298.7 L188.2,299.1 L188.6,299.5 L188.9,299.9 L189.3,300.2 L189.6,300.6 L190.0,301.0 L190.4,301.4 L190.7,301.7 L191.1,302.1 L191.5,302.5 L191.9,302.9 L192.3,303.2 L192.7,303.6 L193.1,304.0 L193.5,304.3 L193.9,304.7 L194.3,305.0 L194.7,305.3 L195.1,305.7 L195.5,306.0 L195.9,306.3 L196.4,306.7 L196.8,307.0 L197.3,307.3 L197.8,307.7 L198.3,308.0 L198.8,308.3 L199.3,308.6 L199.7,308.9 L200.2,309.2 L200.6,309.5 L201.0,309.7 L201.4,310.0 L201.7,310.2 L202.4,310.7 L202.9,311.1 L203.4,311.3 L203.7,311.6 L204.1,311.8 L204.7,312.1 L205.3,312.3 L205.7,312.4 L206.1,311.8 L206.5,311.6 L206.7,311.9 L207.0,312.3 L207.2,312.9 L207.5,313.5 L207.8,314.1 L208.2,314.6 L208.5,315.0 L208.8,315.4 L209.1,315.8 L209.5,316.2 L209.8,316.5 L210.2,316.9 L210.5,317.3 L210.9,317.6 L211.4,318.0 L211.9,318.3 L212.4,318.6 L212.9,318.9 L213.4,319.2 L213.8,319.4 L214.2,319.6 L214.8,319.9 L215.3,320.1 L215.6,320.2 L216.3,320.2 L216.5,320.5 L216.8,320.8 L217.1,321.3 L217.5,321.8 L217.9,322.3 L218.3,322.7 L218.6,323.0 L219.0,323.3 L219.4,323.7 L219.8,324.0 L220.2,324.3 L220.6,324.6 L221.1,324.9 L221.5,325.2 L221.9,325.5 L222.3,325.7 L222.7,325.9 L223.1,326.1 L223.6,326.4 L224.1,326.6 L224.8,326.8 L225.5,327.1 L225.9,327.2 L226.3,327.4 L226.7,327.5 L227.2,327.7 L227.6,327.8 L228.1,328.0 L228.6,328.1 L229.2,328.3 L229.7,328.5 L230.2,328.6 L230.8,328.8 L231.3,328.9 L231.9,329.1 L232.4,329.2 L232.9,329.4 L233.5,329.5 L234.0,329.7 L234.5,329.8 L235.0,329.9 L235.5,330.1 L236.0,330.2 L236.5,330.3 L237.0,330.4 L237.5,330.5 L238.0,330.6 L238.5,330.7 L239.0,330.8 L239.6,330.9 L240.1,331.0 L240.6,331.1 L241.1,331.2 L241.6,331.3 L242.1,331.4 L242.6,331.5 L243.1,331.6 L243.6,331.7 L244.1,331.8 L244.6,331.9 L245.1,331.9 L245.6,332.0 L246.1,332.1 L246.6,332.2 L247.1,332.2 L247.6,332.3 L248.2,332.4 L248.7,332.4 L249.2,332.5 L249.7,332.6 L250.2,332.6 L250.7,332.7 L251.2,332.7 L251.7,332.8 L252.2,332.8 L252.7,332.9 L253.2,333.0 L253.7,333.0 L254.2,333.0 L254.7,333.1 L255.2,333.1 L255.7,333.2 L256.2,333.2 L256.7,333.3 L257.2,333.3 L257.8,333.3 L258.3,333.4 L258.8,333.4 L259.3,333.4 L259.8,333.5 L260.3,333.5 L260.8,333.5 L261.3,333.6 L261.8,333.6 L262.3,333.6 L262.8,333.7 L263.3,333.7 L263.8,333.7 L264.3,333.8 L264.8,333.8 L265.3,333.8 L265.8,333.9 L266.3,333.9 L266.8,333.9 L267.3,334.0 L267.9,334.0 L268.4,334.0 L268.9,334.0 L269.4,334.1 L269.9,334.1 L270.4,334.1 L270.9,334.1 L271.4,334.1 L271.9,334.1 L272.4,334.1 L272.9,334.1 L273.4,334.0 L273.9,334.0 L274.4,334.0 L274.9,334.0 L275.4,333.9 L275.9,333.9 L276.4,333.9 L276.9,333.9 L277.4,333.8 L278.0,333.8 L278.5,333.8 L279.1,333.8 L279.6,333.8 L280.2,333.8 L280.7,333.9 L281.1,333.7 L281.6,333.9 L282.0,333.8 L282.5,333.9 L283.0,333.9 L283.5,333.9 L283.9,333.9 L284.4,334.1 L284.9,334.3 L285.4,334.2 L285.9,334.2 L286.4,334.2 L286.9,334.1 L287.5,334.3 L288.0,334.5 L288.5,334.2 L289.0,334.4 L289.6,334.5 L290.1,334.4 L290.7,334.5 L291.2,334.6 L291.8,334.8 L292.3,334.7 L292.7,334.7 L293.2,334.6 L293.7,334.7 L294.1,334.6 L294.6,334.6 L295.1,334.5 L295.6,334.7 L296.1,334.8 L296.6,334.6 L297.1,334.7 L297.6,334.7 L298.1,334.6 L298.7,334.8 L299.2,334.7 L299.7,334.5 L300.2,334.6 L300.7,334.8 L301.3,334.8 L301.8,334.8 L302.3,334.7 L302.8,334.7 L303.3,334.5 L303.9,334.9 L304.4,334.6 L304.9,334.9 L305.4,334.6 L305.9,334.7 L306.4,334.8 L306.9,334.8 L307.4,334.7 L307.9,334.9 L308.4,334.9 L309.0,334.9 L309.5,334.8 L310.0,334.8 L310.5,334.9 L311.1,334.9 L311.6,334.9 L312.1,335.1 L312.6,335.0 L313.1,334.9 L313.7,334.9 L314.2,335.2 L314.7,335.1 L315.2,335.1 L315.7,335.1 L316.2,335.2 L316.7,335.1 L317.2,335.3 L317.7,335.3 L318.2,334.8 L318.7,335.2 L319.1,335.6 L319.6,335.1 L320.0,335.3 L320.5,335.4 L320.9,335.3 L321.5,335.5 L322.1,335.2 L322.7,335.2 L323.3,335.4 L323.8,335.4 L324.4,335.3 L324.9,335.6 L325.4,335.6 L325.9,335.6 L326.4,335.5 L326.9,335.7 L327.4,335.6 L327.9,335.6 L328.4,335.8 L328.9,335.8 L329.3,335.8 L329.8,335.9 L330.2,335.8 L330.7,335.9 L331.1,335.9 L331.7,336.2 L332.3,336.2 L332.9,336.5 L333.4,336.6 L333.9,336.5 L334.4,336.5 L334.9,336.8 L335.4,336.9 L335.9,337.0 L336.4,337.0 L336.9,337.3 L337.4,337.4 L337.9,337.5 L338.4,337.5 L338.9,337.4 L339.5,337.3 L340.0,337.6 L340.5,337.6 L341.1,337.6 L341.6,337.8 L342.2,337.7 L342.7,337.8 L343.2,337.7 L343.7,337.7 L344.2,337.7 L344.7,337.8 L345.2,337.5 L345.6,337.8 L346.3,337.8 L346.9,337.7 L347.5,337.9 L348.0,338.0 L348.5,338.2 L349.0,338.2 L349.5,338.2 L350.0,338.2 L350.6,338.3 L351.1,338.4 L351.7,338.5 L352.2,338.6 L352.8,338.7 L353.4,338.7 L353.9,338.7 L354.4,338.7 L354.9,338.6 L355.4,338.5 L355.8,338.3 L356.3,338.1 L356.8,337.8 L357.2,337.5 L357.6,337.2 L358.0,336.9 L358.4,336.5 L358.7,336.1 L359.1,335.7 L359.4,335.2 L359.7,334.7 L360.0,334.2 L360.4,333.7 L360.7,333.3 L361.0,332.9 L361.4,332.5 L361.7,332.1 L362.0,331.7 L362.3,331.3 L362.7,330.9 L363.0,330.5 L363.4,330.2 L363.8,329.9 L364.3,329.6 L364.7,329.4 L365.2,329.1 L365.7,328.9 L366.1,328.6 L366.6,328.3 L367.0,327.9 L367.3,327.6 L367.6,327.2 L367.9,326.8 L368.1,326.4 L368.4,326.0 L368.7,325.6 L368.9,325.1 L369.2,324.6 L369.4,324.0 L369.7,323.4 L369.9,323.0 L370.0,322.6 L370.2,322.2 L370.3,321.7 L370.5,321.2 L370.7,320.7 L370.8,320.2 L371.0,319.7 L371.2,319.1 L371.3,318.6 L371.5,318.1 L371.6,317.6 L371.8,317.1 L371.9,316.6 L372.1,316.2 L372.3,315.7 L372.4,315.3 L372.6,314.7 L372.8,314.0 L373.1,313.4 L373.3,312.7 L373.5,312.1 L373.7,311.5 L373.9,311.0 L374.1,310.6 L374.3,310.2 L374.5,310.0 L374.7,309.9 L374.9,309.9 L375.2,310.1 L375.4,310.4 L375.6,310.8 L375.8,311.2 L376.1,311.8 L376.3,312.4 L376.5,313.1 L376.7,313.7 L376.9,314.4 L377.0,314.8 L377.1,315.2 L377.2,315.6 L377.3,316.1 L377.4,316.6 L377.5,317.1 L377.6,317.6 L377.7,318.1 L377.8,318.6 L377.9,319.2 L378.0,319.7 L378.1,320.2 L378.2,320.8 L378.3,321.3 L378.4,321.8 L378.5,322.4 L378.6,322.9 L378.7,323.4 L378.8,323.9 L378.9,324.4 L379.1,325.0 L379.2,325.5 L379.3,326.1 L379.5,326.6 L379.6,327.2 L379.7,327.7 L379.9,328.3 L380.0,328.8 L380.2,329.4 L380.3,329.9 L380.5,330.4 L380.6,330.8 L380.8,331.3 L381.0,331.7 L381.1,332.1 L381.3,332.4 L381.7,333.0 L382.0,333.4 L382.4,333.8 L382.8,334.1 L383.2,334.3 L383.7,334.5 L384.1,334.6 L384.5,334.9 L384.9,335.1 L385.3,335.4 L385.8,335.7 L386.2,336.0 L386.6,336.3 L387.0,336.6 L387.5,336.9 L388.0,337.1 L388.5,337.4 L388.9,337.6 L389.4,337.8 L389.8,338.0 L390.3,338.2 L390.8,338.5 L391.3,338.7 L391.9,338.8 L392.4,339.0 L392.9,339.1 L393.4,339.2 L393.9,339.2 L394.4,339.2 L394.9,339.1 L395.4,339.0 L395.9,338.8 L396.5,338.7 L397.0,338.5 L397.5,338.2 L398.0,338.0 L398.4,337.8 L398.9,337.6 L399.3,337.4 L399.8,337.1 L400.4,336.8 L400.9,336.6 L401.3,336.2 L401.8,335.9 L402.2,335.7 L402.6,335.4 L402.9,335.1 L403.4,334.5 L403.8,333.9 L404.1,333.4 L404.6,333.3 L404.9,333.5 L405.3,333.8 L405.7,334.2 L406.1,334.7 L406.5,335.2 L406.9,335.7 L407.4,336.0 L407.9,336.2 L408.4,336.4 L408.9,336.6 L409.5,336.7 L410.0,336.8 L410.5,336.9 L411.0,336.9 L411.6,336.9 L412.1,336.8 L412.6,336.6 L413.0,336.3 L413.5,336.0 L413.8,335.7 L414.2,335.5 L414.5,335.2 L414.9,334.8 L415.2,334.4 L415.6,333.8 L416.0,333.0 L416.2,332.7 L416.3,332.3 L416.5,331.9 L416.7,331.6 L416.9,331.1 L417.1,330.7 L417.3,330.3 L417.5,329.8 L417.7,329.3 L417.9,328.8 L418.1,328.3 L418.3,327.8 L418.4,327.3 L418.6,326.7 L418.8,326.2 L419.0,325.7 L419.2,325.1 L419.3,324.6 L419.5,324.0 L419.6,323.6 L419.7,323.1 L419.9,322.6 L420.0,322.2 L420.1,321.7 L420.2,321.2 L420.3,320.7 L420.4,320.2 L420.5,319.7 L420.6,319.2 L420.7,318.7 L420.8,318.2 L420.9,317.7 L421.0,317.2 L421.0,316.6 L421.1,316.1 L421.2,315.6 L421.3,315.1 L421.4,314.6 L421.5,314.0 L421.6,313.5 L421.6,313.0 L421.7,312.5 L421.8,312.0 L421.9,311.5 L422.0,311.0 L422.0,310.5 L422.1,310.0 L422.2,309.6 L422.2,309.1 L422.3,308.6 L422.4,308.1 L422.4,307.6 L422.5,307.2 L422.6,306.7 L422.6,306.2 L422.7,305.7 L422.8,305.2 L422.8,304.7 L422.9,304.2 L422.9,303.7 L423.0,303.2 L423.0,302.7 L423.1,302.2 L423.1,301.6 L423.2,301.1 L423.2,300.6 L423.3,300.0 L423.3,299.5 L423.4,299.1 L423.4,298.6 L423.5,298.1 L423.5,297.6 L423.5,297.1 L423.6,296.6 L423.6,296.1 L423.6,295.6 L423.7,295.0 L423.7,294.5 L423.8,294.0 L423.8,293.5 L423.8,292.9 L423.9,292.4 L423.9,291.9 L423.9,291.3 L424.0,290.8 L424.0,290.3 L424.0,289.8 L424.0,289.2 L424.1,288.7 L424.1,288.2 L424.1,287.7 L424.2,287.3 L424.2,286.8 L424.2,286.3 L424.2,285.9 L424.3,285.4 L424.3,285.0 L424.3,284.4 L424.4,283.8 L424.4,283.2 L424.4,282.7 L424.5,282.2 L424.5,281.6 L424.5,281.1 L424.6,280.7 L424.6,280.2 L424.6,279.7 L424.7,279.2 L424.7,278.8 L424.7,278.3 L424.7,277.8 L424.8,277.3 L424.8,276.8 L424.8,276.3 L424.8,275.8 L424.9,275.3 L424.9,274.7 L424.9,274.2 L424.9,273.8 L425.0,273.3 L425.0,272.8 L425.0,272.3 L425.0,271.8 L425.1,271.3 L425.1,270.8 L425.1,270.3 L425.1,269.8 L425.2,269.2 L425.2,268.7 L425.2,268.2 L425.2,267.7 L425.2,267.1 L425.3,266.6 L425.3,266.1 L425.3,265.6 L425.3,265.1 L425.4,264.5 L425.4,264.0 L425.4,263.5 L425.4,263.0 L425.5,262.5 L425.5,262.0 L425.5,261.5 L425.6,261.0 L425.6,260.5 L425.6,260.0 L425.7,259.5 L425.7,259.1 L425.7,258.6 L425.8,258.1 L425.8,257.7 L425.8,257.2 L425.9,256.7 L425.9,256.3 L425.9,255.8 L426.0,255.3 L426.0,254.8 L426.1,254.4 L426.1,253.9 L426.1,253.3 L426.2,252.8 L426.2,252.3 L426.2,251.7 L426.3,251.2 L426.3,250.6 L426.4,250.0 L426.4,249.6 L426.4,249.1 L426.4,248.7 L426.5,248.2 L426.5,247.7 L426.5,247.3 L426.5,246.8 L426.6,246.3 L426.6,245.8 L426.6,245.3 L426.6,244.7 L426.7,244.2 L426.7,243.7 L426.7,243.2 L426.7,242.7 L426.8,242.1 L426.8,241.6 L426.8,241.1 L426.8,240.5 L426.9,240.0 L426.9,239.5 L426.9,238.9 L427.0,238.4 L427.0,237.9 L427.0,237.4 L427.0,236.8 L427.0,236.3 L427.1,235.8 L427.1,235.3 L427.1,234.8 L427.1,234.3 L427.2,233.8 L427.2,233.4 L427.2,232.9 L427.2,232.3 L427.2,231.8 L427.3,231.2 L427.3,230.7 L427.3,230.1 L427.3,229.6 L427.3,229.1 L427.4,228.5 L427.4,228.0 L427.4,227.5 L427.4,227.0 L427.4,226.4 L427.4,225.9 L427.5,225.4 L427.5,224.9 L427.5,224.4 L427.5,223.9 L427.5,223.4 L427.5,222.9 L427.6,222.4 L427.6,221.9 L427.6,221.4 L427.6,220.9 L427.6,220.4 L427.6,219.9 L427.7,219.5 L427.7,219.0 L427.7,218.5 L427.7,218.0 L427.7,217.4 L427.8,216.9 L427.8,216.4 L427.8,215.9 L427.8,215.4 L427.9,214.9 L427.9,214.4 L427.9,213.9 L427.9,213.4 L428.0,212.9 L428.0,212.4 L428.0,211.9 L428.1,211.4 L428.1,210.9 L428.1,210.4 L428.1,209.9 L428.2,209.5 L428.2,209.0 L428.2,208.5 L428.3,208.0 L428.3,207.5 L428.3,207.0 L428.4,206.5 L428.4,206.0 L428.4,205.5 L428.5,205.0 L428.5,204.5 L428.5,204.0 L428.6,203.5 L428.6,203.0 L428.7,202.5 L428.7,202.0 L428.7,201.5 L428.8,201.0 L428.8,200.5 L428.9,200.0 L428.9,199.5 L428.9,198.9 L429.0,198.4 L429.0,197.9 L429.1,197.4 L429.1,196.9 L429.2,196.4 L429.2,195.9 L429.3,195.4 L429.3,194.9 L429.4,194.4 L429.4,193.9 L429.5,193.4 L429.6,192.9 L429.6,192.4 L429.7,191.9 L429.7,191.4 L429.8,190.9 L429.9,190.3 L429.9,189.8 L430.0,189.3 L430.1,188.8 L430.1,188.3 L430.2,187.8 L430.3,187.2 L430.3,186.7 L430.4,186.2 L430.5,185.7 L430.6,185.2 L430.6,184.7 L430.7,184.2 L430.8,183.7 L430.9,183.2 L431.0,182.7 L431.0,182.2 L431.1,181.7 L431.2,181.3 L431.3,180.8 L431.4,180.3 L431.5,179.8 L431.6,179.3 L431.7,178.8 L431.8,178.3 L431.9,177.9 L432.0,177.4 L432.2,177.0 L432.3,176.5 L432.4,176.1 L432.5,175.6 L432.6,175.2 L432.8,174.7 L432.9,174.2 L433.0,173.8 L433.1,173.3 L433.2,172.8 L433.4,172.3 L433.5,171.7 L433.6,171.2 L433.7,170.6 L433.9,170.0 L433.9,169.6 L434.0,169.1 L434.1,168.7 L434.2,168.3 L434.3,167.8 L434.4,167.3 L434.4,166.9 L434.5,166.4 L434.6,165.9 L434.7,165.4 L434.8,164.9 L434.9,164.4 L435.0,163.9 L435.0,163.4 L435.1,162.9 L435.2,162.4 L435.3,161.9 L435.4,161.4 L435.5,160.8 L435.6,160.3 L435.7,159.8 L435.7,159.2 L435.8,158.7 L435.9,158.2 L436.0,157.6 L436.1,157.1 L436.2,156.6 L436.3,156.0 L436.3,155.5 L436.4,155.0 L436.5,154.4 L436.6,153.9 L436.7,153.4 L436.7,153.0 L436.8,152.5 L436.9,152.0 L437.0,151.5 L437.1,151.1 L437.1,150.6 L437.2,150.1 L437.3,149.6 L437.4,149.1 L437.4,148.7 L437.5,148.2 L437.6,147.7 L437.7,147.2 L437.7,146.7 L437.8,146.2 L437.9,145.7 L438.0,145.3 L438.0,144.8 L438.1,144.3 L438.2,143.8 L438.3,143.3 L438.3,142.8 L438.4,142.3 L438.5,141.8 L438.6,141.2 L438.6,140.7 L438.7,140.2 L438.8,139.7 L438.8,139.2 L438.9,138.7 L439.0,138.1 L439.0,137.6 L439.1,137.1 L439.1,136.5 L439.2,136.0 L439.2,135.5 L439.3,135.1 L439.3,134.6 L439.4,134.1 L439.4,133.6 L439.5,133.1 L439.5,132.6 L439.6,132.1 L439.6,131.6 L439.7,131.1 L439.7,130.6 L439.7,130.0 L439.8,129.5 L439.8,129.0 L439.9,128.5 L439.9,127.9 L439.9,127.4 L440.0,126.9 L440.0,126.3 L440.0,125.8 L440.1,125.3 L440.1,124.7 L440.2,124.2 L440.2,123.7 L440.2,123.2 L440.3,122.7 L440.3,122.1 L440.3,121.6 L440.4,121.1 L440.4,120.6 L440.4,120.1 L440.5,119.6 L440.5,119.1 L440.5,118.6 L440.6,118.1 L440.6,117.7 L440.6,117.2 L440.7,116.8 L440.7,116.3 L440.7,115.9 L440.8,115.4 L440.8,115.0 L440.9,114.4 L440.9,113.8 L441.0,113.2 L441.0,112.6 L441.1,112.1 L441.1,111.5 L441.2,111.0 L441.2,110.5 L441.3,110.0 L441.3,109.5 L441.3,109.0 L441.4,108.5 L441.4,108.0 L441.5,107.5 L441.5,107.0 L441.6,106.6 L441.6,106.1 L441.7,105.6 L441.7,105.2 L441.8,104.7 L441.8,104.2 L441.8,103.7 L441.9,103.3 L441.9,102.8 L442.0,102.3 L442.0,101.7 L442.1,101.2 L442.1,100.7 L442.1,100.2 L442.2,99.7 L442.2,99.2 L442.2,98.7 L442.3,98.2 L442.3,97.7 L442.3,97.2 L442.4,96.7 L442.4,96.2 L442.4,95.7 L442.5,95.2 L442.5,94.7 L442.5,94.2 L442.6,93.6 L442.6,93.1 L442.6,92.6 L442.7,92.1 L442.7,91.6 L442.7,91.1 L442.8,90.6 L442.8,90.0 L442.8,89.5 L442.8,89.0 L442.9,88.5 L442.9,88.0 L442.9,87.5 L443.0,87.0 L443.0,86.5 L443.0,86.0 L443.1,85.5 L443.1,85.0 L443.1,84.5 L443.2,84.0 L443.2,83.4 L443.2,82.9 L443.3,82.4 L443.3,81.9 L443.3,81.4 L443.4,80.9 L443.4,80.4 L443.4,79.9 L443.5,79.4 L443.5,78.9 L443.5,78.4 L443.6,77.9 L443.6,77.4 L443.6,76.9 L443.7,76.4 L443.7,75.9 L443.7,75.4 L443.8,74.9 L443.8,74.4 L443.8,73.9 L443.9,73.4 L443.9,72.9 L444.0,72.4 L444.0,71.8 L444.0,71.3 L444.1,70.8 L444.1,70.3 L444.1,69.8 L444.2,69.3 L444.2,68.8 L444.2,68.2 L444.3,67.7 L444.3,67.2 L444.4,66.6 L444.4,66.1 L444.4,65.6 L444.5,65.0 L444.5,64.5 L444.6,63.9 L444.6,63.4 L444.6,62.8 L444.7,62.3 L444.7,61.8 L444.8,61.2 L444.8,60.7 L444.8,60.2 L444.9,59.7 L444.9,59.2 L445.0,58.7 L445.0,58.2 L445.1,57.7 L445.1,57.2 L445.1,56.7 L445.2,56.3 L445.2,55.8 L445.3,55.4 L445.3,55.0 L445.4,54.3 L445.4,53.6 L445.5,52.9 L445.6,52.2 L445.7,51.5 L445.7,50.8 L445.8,50.1 L445.9,49.5 L445.9,48.9 L446.0,48.3 L446.1,47.8 L446.2,47.3 L446.2,46.9 L446.3,46.5 L446.4,46.2 L446.5,46.0 L446.5,45.8 L446.6,45.8 L446.7,45.8 L446.7,46.0 L446.8,46.2 L446.9,46.5 L447.0,46.9 L447.0,47.3 L447.1,47.8 L447.2,48.3 L447.2,48.9 L447.3,49.5 L447.4,50.1 L447.4,50.8 L447.5,51.5 L447.6,52.2 L447.6,52.9 L447.7,53.6 L447.7,54.3 L447.8,55.0 L447.8,55.4 L447.9,55.8 L447.9,56.3 L447.9,56.7 L448.0,57.2 L448.0,57.7 L448.0,58.2 L448.0,58.7 L448.1,59.2 L448.1,59.7 L448.1,60.2 L448.1,60.7 L448.2,61.2 L448.2,61.8 L448.2,62.3 L448.2,62.8 L448.3,63.4 L448.3,63.9 L448.3,64.5 L448.3,65.0 L448.4,65.6 L448.4,66.1 L448.4,66.6 L448.4,67.2 L448.5,67.7 L448.5,68.2 L448.5,68.8 L448.5,69.3 L448.6,69.8 L448.6,70.3 L448.6,70.8 L448.7,71.3 L448.7,71.8 L448.7,72.4 L448.7,72.9 L448.8,73.4 L448.8,73.9 L448.8,74.4 L448.8,74.9 L448.9,75.4 L448.9,75.9 L448.9,76.4 L449.0,76.9 L449.0,77.4 L449.0,77.9 L449.0,78.4 L449.1,78.9 L449.1,79.4 L449.1,79.9 L449.2,80.4 L449.2,80.9 L449.2,81.4 L449.2,81.9 L449.3,82.4 L449.3,82.9 L449.3,83.4 L449.3,84.0 L449.4,84.5 L449.4,85.0 L449.4,85.5 L449.5,86.0 L449.5,86.5 L449.5,87.0 L449.5,87.5 L449.6,88.0 L449.6,88.5 L449.6,89.0 L449.6,89.5 L449.7,90.0 L449.7,90.6 L449.7,91.1 L449.7,91.6 L449.8,92.1 L449.8,92.6 L449.8,93.1 L449.8,93.6 L449.9,94.2 L449.9,94.7 L449.9,95.2 L449.9,95.7 L450.0,96.2 L450.0,96.7 L450.0,97.2 L450.1,97.7 L450.1,98.2 L450.1,98.7 L450.1,99.2 L450.2,99.7 L450.2,100.2 L450.2,100.7 L450.2,101.2 L450.3,101.7 L450.3,102.3 L450.3,102.8 L450.3,103.3 L450.4,103.7 L450.4,104.2 L450.4,104.7 L450.4,105.2 L450.5,105.6 L450.5,106.1 L450.5,106.6 L450.5,107.0 L450.6,107.5 L450.6,108.0 L450.6,108.5 L450.6,109.0 L450.7,109.5 L450.7,110.0 L450.7,110.5 L450.7,111.0 L450.8,111.5 L450.8,112.1 L450.8,112.6 L450.8,113.2 L450.9,113.8 L450.9,114.4 L450.9,115.0 L450.9,115.4 L450.9,115.9 L450.9,116.3 L451.0,116.8 L451.0,117.2 L451.0,117.7 L451.0,118.1 L451.0,118.6 L451.0,119.1 L451.0,119.6 L451.0,120.1 L451.1,120.6 L451.1,121.1 L451.1,121.6 L451.1,122.1 L451.1,122.7 L451.1,123.2 L451.1,123.7 L451.1,124.2 L451.2,124.7 L451.2,125.3 L451.2,125.8 L451.2,126.3 L451.2,126.9 L451.2,127.4 L451.2,127.9 L451.2,128.5 L451.2,129.0 L451.3,129.5 L451.3,130.0 L451.3,130.6 L451.3,131.1 L451.3,131.6 L451.3,132.1 L451.3,132.6 L451.3,133.1 L451.3,133.6 L451.4,134.1 L451.4,134.6 L451.4,135.1 L451.4,135.5 L451.4,136.0 L451.4,136.5 L451.4,137.1 L451.4,137.6 L451.5,138.1 L451.5,138.6 L451.5,139.2 L451.5,139.6 L451.5,140.1 L451.5,140.6 L451.5,141.1 L451.6,141.6 L451.6,142.0 L451.6,142.5 L451.6,143.0 L451.6,143.5 L451.6,143.9 L451.6,144.4 L451.7,144.9 L451.7,145.3 L451.7,145.8 L451.7,146.3 L451.7,146.8 L451.7,147.3 L451.7,147.8 L451.8,148.3 L451.8,148.8 L451.8,149.3 L451.8,149.8 L451.8,150.4 L451.8,150.9 L451.8,151.5 L451.9,152.1 L451.9,152.7 L451.9,153.3 L451.9,153.9 L451.9,154.3 L451.9,154.8 L451.9,155.2 L451.9,155.7 L451.9,156.1 L452.0,156.6 L452.0,157.0 L452.0,157.5 L452.0,158.0 L452.0,158.5 L452.0,159.0 L452.0,159.5 L452.0,160.0 L452.0,160.5 L452.0,161.0 L452.1,161.5 L452.1,162.0 L452.1,162.6 L452.1,163.1 L452.1,163.6 L452.1,164.1 L452.1,164.7 L452.1,165.2 L452.1,165.7 L452.1,166.3 L452.1,166.8 L452.2,167.4 L452.2,167.9 L452.2,168.4 L452.2,169.0 L452.2,169.5 L452.2,170.0 L452.2,170.6 L452.2,171.1 L452.2,171.6 L452.2,172.2 L452.2,172.7 L452.3,173.2 L452.3,173.7 L452.3,174.2 L452.3,174.7 L452.3,175.2 L452.3,175.7 L452.3,176.2 L452.3,176.7 L452.3,177.2 L452.3,177.7 L452.4,178.2 L452.4,178.6 L452.4,179.1 L452.4,179.6 L452.4,180.0 L452.4,180.6 L452.4,181.1 L452.4,181.7 L452.5,182.2 L452.5,182.8 L452.5,183.3 L452.5,183.9 L452.5,184.4 L452.5,184.9 L452.5,185.4 L452.6,185.9 L452.6,186.4 L452.6,187.0 L452.6,187.5 L452.6,187.9 L452.6,188.4 L452.6,188.9 L452.7,189.4 L452.7,189.9 L452.7,190.4 L452.7,190.9 L452.7,191.3 L452.7,191.8 L452.8,192.3 L452.8,192.8 L452.8,193.2 L452.8,193.7 L452.8,194.2 L452.8,194.7 L452.8,195.1 L452.9,195.6 L452.9,196.1 L452.9,196.6 L452.9,197.1 L452.9,197.5 L452.9,198.0 L453.0,198.5 L453.0,199.0 L453.0,199.5 L453.0,200.0 L453.0,200.5 L453.0,201.0 L453.0,201.5 L453.1,202.0 L453.1,202.5 L453.1,203.0 L453.1,203.4 L453.1,203.9 L453.1,204.4 L453.1,204.9 L453.2,205.4 L453.2,205.8 L453.2,206.3 L453.2,206.8 L453.2,207.3 L453.2,207.8 L453.3,208.2 L453.3,208.7 L453.3,209.2 L453.3,209.7 L453.3,210.2 L453.3,210.7 L453.3,211.1 L453.4,211.6 L453.4,212.1 L453.4,212.6 L453.4,213.1 L453.4,213.6 L453.4,214.1 L453.4,214.6 L453.5,215.2 L453.5,215.7 L453.5,216.2 L453.5,216.7 L453.5,217.3 L453.5,217.8 L453.6,218.3 L453.6,218.9 L453.6,219.4 L453.6,220.0 L453.6,220.5 L453.6,220.9 L453.6,221.4 L453.6,221.8 L453.7,222.3 L453.7,222.8 L453.7,223.2 L453.7,223.7 L453.7,224.2 L453.7,224.7 L453.7,225.2 L453.7,225.7 L453.8,226.1 L453.8,226.6 L453.8,227.1 L453.8,227.6 L453.8,228.1 L453.8,228.6 L453.8,229.1 L453.8,229.6 L453.9,230.1 L453.9,230.7 L453.9,231.2 L453.9,231.7 L453.9,232.2 L453.9,232.7 L453.9,233.2 L453.9,233.7 L453.9,234.2 L454.0,234.8 L454.0,235.3 L454.0,235.8 L454.0,236.3 L454.0,236.8 L454.0,237.3 L454.0,237.9 L454.0,238.4 L454.1,238.9 L454.1,239.4 L454.1,239.9 L454.1,240.4 L454.1,240.9 L454.1,241.5 L454.1,242.0 L454.1,242.5 L454.2,243.0 L454.2,243.5 L454.2,244.0 L454.2,244.5 L454.2,245.0 L454.2,245.5 L454.2,246.0 L454.2,246.5 L454.2,247.0 L454.3,247.5 L454.3,248.0 L454.3,248.5 L454.3,249.1 L454.3,249.6 L454.3,250.1 L454.3,250.6 L454.3,251.1 L454.4,251.6 L454.4,252.1 L454.4,252.7 L454.4,253.2 L454.4,253.7 L454.4,254.2 L454.4,254.7 L454.4,255.2 L454.4,255.8 L454.5,256.3 L454.5,256.8 L454.5,257.3 L454.5,257.8 L454.5,258.3 L454.5,258.8 L454.5,259.3 L454.5,259.9 L454.6,260.4 L454.6,260.9 L454.6,261.4 L454.6,261.9 L454.6,262.4 L454.6,262.9 L454.6,263.4 L454.6,263.9 L454.6,264.3 L454.7,264.8 L454.7,265.3 L454.7,265.8 L454.7,266.3 L454.7,266.8 L454.7,267.2 L454.7,267.7 L454.7,268.2 L454.8,268.6 L454.8,269.1 L454.8,269.5 L454.8,270.0 L454.8,270.6 L454.8,271.1 L454.8,271.7 L454.9,272.2 L454.9,272.8 L454.9,273.3 L454.9,273.9 L454.9,274.4 L454.9,275.0 L455.0,275.5 L455.0,276.1 L455.0,276.6 L455.0,277.1 L455.0,277.6 L455.0,278.2 L455.1,278.7 L455.1,279.2 L455.1,279.7 L455.1,280.2 L455.1,280.8 L455.1,281.3 L455.2,281.8 L455.2,282.3 L455.2,282.7 L455.2,283.2 L455.2,283.7 L455.2,284.2 L455.3,284.7 L455.3,285.1 L455.3,285.6 L455.3,286.1 L455.3,286.5 L455.4,287.0 L455.4,287.4 L455.4,287.9 L455.4,288.3 L455.4,288.7 L455.5,289.2 L455.5,289.6 L455.5,290.0 L455.5,290.6 L455.6,291.2 L455.6,291.9 L455.6,292.4 L455.7,293.0 L455.7,293.6 L455.8,294.2 L455.8,294.7 L455.8,295.3 L455.9,295.8 L455.9,296.3 L456.0,296.8 L456.0,297.3 L456.1,297.8 L456.1,298.3 L456.1,298.8 L456.2,299.2 L456.2,299.7 L456.3,300.1 L456.3,300.6 L456.4,301.0 L456.4,301.4 L456.5,301.8 L456.5,302.2 L456.6,302.6 L456.6,303.0 L456.7,303.7 L456.8,304.5 L456.9,305.2 L457.0,305.9 L457.0,306.6 L457.1,307.3 L457.2,307.9 L457.3,308.4 L457.4,308.9 L457.5,309.3 L457.6,309.7 L457.7,309.9 L457.8,310.0 L457.9,310.0 L458.0,309.9 L458.0,309.7 L458.1,309.5 L458.2,309.1 L458.2,308.8 L458.3,308.3 L458.4,307.8 L458.4,307.3 L458.5,306.7 L458.6,306.1 L458.7,305.5 L458.7,304.9 L458.8,304.2 L458.9,303.6 L459.0,302.9 L459.1,302.3 L459.2,301.7 L459.3,301.1 L459.4,300.7 L459.5,300.2 L459.6,299.7 L459.7,299.1 L459.8,298.6 L459.9,298.0 L460.0,297.4 L460.1,296.8 L460.2,296.2 L460.3,295.6 L460.5,295.0 L460.6,294.4 L460.7,293.8 L460.8,293.3 L461.0,292.7 L461.1,292.2 L461.2,291.7 L461.3,291.3 L461.4,290.8 L461.6,290.4 L461.7,290.1 L461.8,289.8 L461.9,289.6 L462.0,289.4 L462.3,289.2 L462.5,289.2 L462.8,289.4 L463.0,289.8 L463.3,290.4 L463.5,291.0 L463.7,291.7 L464.0,292.5 L464.2,293.2 L464.4,293.9 L464.5,294.3 L464.6,294.7 L464.7,295.1 L464.8,295.6 L464.9,296.1 L465.0,296.6 L465.1,297.1 L465.2,297.6 L465.3,298.1 L465.4,298.7 L465.5,299.2 L465.6,299.7 L465.7,300.3 L465.8,300.8 L465.9,301.3 L466.0,301.9 L466.1,302.4 L466.2,302.9 L466.3,303.4 L466.4,303.9 L466.5,304.4 L466.6,304.9 L466.7,305.5 L466.8,306.0 L466.9,306.5 L467.0,307.0 L467.1,307.5 L467.2,308.0 L467.3,308.5 L467.4,309.0 L467.5,309.5 L467.6,310.0 L467.7,310.5 L467.8,311.0 L467.9,311.4 L468.0,311.9 L468.1,312.4 L468.3,312.9 L468.4,313.4 L468.5,313.9 L468.7,314.3 L468.8,314.8 L468.9,315.2 L469.1,315.6 L469.2,316.1 L469.4,316.5 L469.5,317.0 L469.6,317.5 L469.8,318.0 L469.9,318.5 L470.1,319.1 L470.2,319.5 L470.3,320.0 L470.4,320.5 L470.6,320.9 L470.7,321.4 L470.8,322.0 L470.9,322.5 L471.0,323.0 L471.2,323.5 L471.3,324.1 L471.4,324.6 L471.6,325.2 L471.7,325.7 L471.8,326.2 L471.9,326.8 L472.1,327.3 L472.2,327.8 L472.3,328.2 L472.4,328.7 L472.6,329.2 L472.7,329.6 L472.9,330.2 L473.1,330.8 L473.2,331.4 L473.4,332.0 L473.6,332.6 L473.8,333.2 L474.0,333.8 L474.1,334.3 L474.3,334.8 L474.5,335.3 L474.7,335.7 L474.9,336.0 L475.0,336.3 L475.2,336.5 L475.4,336.7 L475.7,336.8 L476.0,336.8 L476.3,336.6 L476.6,336.3 L476.9,335.9 L477.2,335.4 L477.5,334.7 L477.8,333.9 L478.1,333.1 L478.2,332.8 L478.3,332.4 L478.4,332.0 L478.5,331.6 L478.6,331.1 L478.7,330.7 L478.9,330.2 L479.0,329.7 L479.1,329.2 L479.2,328.7 L479.3,328.1 L479.4,327.6 L479.5,327.0 L479.6,326.5 L479.7,325.9 L479.8,325.3 L479.9,324.8 L480.0,324.2 L480.2,323.7 L480.3,323.1 L480.4,322.6 L480.5,322.1 L480.6,321.6 L480.7,321.1 L480.8,320.6 L480.9,320.1 L481.0,319.5 L481.2,318.9 L481.3,318.3 L481.4,317.7 L481.5,317.0 L481.7,316.4 L481.8,315.8 L481.9,315.1 L482.0,314.5 L482.1,313.9 L482.3,313.3 L482.4,312.8 L482.5,312.3 L482.6,311.8 L482.8,311.3 L482.9,310.9 L483.0,310.6 L483.1,310.3 L483.3,310.1 L483.4,309.9 L483.5,309.8 L483.7,309.8 L483.8,309.9 L484.0,310.1 L484.1,310.4 L484.3,310.8 L484.5,311.2 L484.6,311.7 L484.8,312.3 L484.9,312.9 L485.1,313.6 L485.2,314.2 L485.4,314.9 L485.6,315.5 L485.7,316.2 L485.9,316.8 L486.0,317.4 L486.2,317.9 L486.3,318.4 L486.5,318.9 L486.6,319.5 L486.8,320.1 L486.9,320.7 L487.1,321.3 L487.2,321.9 L487.4,322.5 L487.5,323.1 L487.6,323.7 L487.8,324.2 L487.9,324.7 L488.1,324.8 L488.2,326.1 L488.4,326.4 L488.6,326.6 L488.7,326.8 L488.9,327.2 L489.3,326.9 L489.6,327.3 L490.0,326.9 L490.4,326.3 L490.8,326.2 L491.2,325.7 L491.6,325.5 L492.1,324.8 L492.5,323.8 L492.9,323.4 L493.3,323.6 L493.7,323.3 L494.1,322.8 L494.5,322.4 L494.9,322.4 L495.3,321.8 L495.7,321.6 L496.2,321.6 L496.6,321.1 L497.0,320.4 L497.3,320.0 L497.7,319.9 L498.0,320.0 L498.3,319.1 L498.6,319.4 L499.0,318.4 L499.3,318.1 L499.6,318.0 L500.0,317.2 L500.3,317.0 L500.6,316.2 L500.9,316.3 L501.2,316.0 L501.5,315.0 L501.7,314.8 L502.0,314.2 L502.2,313.3 L502.4,314.1 L502.6,313.1 L502.8,312.6 L503.0,312.0 L503.2,311.4 L503.4,311.4 L503.6,309.9 L503.8,309.7 L504.0,309.2 L504.2,308.8 L504.4,308.5 L504.6,307.7 L504.8,307.1 L505.0,306.7 L505.3,306.6 L505.6,306.2 L505.9,305.7 L506.2,305.5 L506.5,304.5 L506.9,304.4 L507.2,304.0 L507.5,303.3 L507.8,302.8 L508.1,302.8 L508.4,302.1 L508.6,301.8 L508.9,301.3 L509.2,301.4 L509.5,300.5 L509.8,299.9 L510.1,299.5 L510.3,299.0 L510.6,298.7 L510.8,297.8 L511.0,297.6 L511.3,297.6 L511.6,297.3 L512.0,296.2 L512.3,296.0 L512.7,295.3 L513.0,294.5 L513.4,294.8 L513.7,294.6 L514.0,295.3 L514.2,295.3 L514.5,295.8 L514.7,296.0 L514.9,296.9 L515.2,297.0 L515.5,298.1 L515.7,299.0 L516.0,298.8 L516.3,299.8 L516.6,300.4 L516.9,300.6 L517.3,301.4 L517.6,301.7 L517.9,302.0 L518.2,302.0 L518.5,302.5 L518.8,302.6 L519.3,303.9 L519.8,303.5 L520.3,303.0 L520.7,301.2 L520.8,301.6 L520.8,300.6 L520.9,300.9 L520.9,300.5 L521.0,299.8 L521.0,299.4 L521.1,299.0 L521.1,298.6 L521.2,298.1 L521.2,297.7 L521.3,297.2 L521.4,296.7 L521.4,296.2 L521.5,295.7 L521.5,295.1 L521.6,294.6 L521.6,294.0 L521.7,293.5 L521.7,292.9 L521.8,292.3 L521.8,291.7 L521.9,291.1 L521.9,290.5 L522.0,289.9 L522.0,289.3 L522.1,288.7 L522.1,288.1 L522.2,287.5 L522.2,286.9 L522.3,286.3 L522.3,285.7 L522.3,285.3 L522.4,284.8 L522.4,284.4 L522.4,283.9 L522.5,283.5 L522.5,283.0 L522.5,282.6 L522.6,282.1 L522.6,281.6 L522.6,281.2 L522.7,280.7 L522.7,280.2 L522.7,279.7 L522.7,279.2 L522.8,278.8 L522.8,278.3 L522.8,277.8 L522.9,277.3 L522.9,276.8 L522.9,276.3 L523.0,275.8 L523.0,275.3 L523.0,274.7 L523.0,274.2 L523.1,273.7 L523.1,273.2 L523.1,272.7 L523.2,272.2 L523.2,271.6 L523.2,271.1 L523.2,270.6 L523.3,270.1 L523.3,269.5 L523.3,269.0 L523.4,268.5 L523.4,268.0 L523.4,267.4 L523.5,266.9 L523.5,266.3 L523.5,265.8 L523.5,265.3 L523.6,264.7 L523.6,264.2 L523.6,263.7 L523.7,263.2 L523.7,262.8 L523.7,262.3 L523.7,261.8 L523.8,261.3 L523.8,260.8 L523.8,260.3 L523.8,259.8 L523.8,259.4 L523.9,258.9 L523.9,258.4 L523.9,257.9 L523.9,257.4 L524.0,256.8 L524.0,256.3 L524.0,255.8 L524.0,255.3 L524.0,254.8 L524.1,254.3 L524.1,253.8 L524.1,253.3 L524.1,252.8 L524.2,252.3 L524.2,251.7 L524.2,251.2 L524.2,250.7 L524.3,250.2 L524.3,249.7 L524.3,249.2 L524.3,248.6 L524.4,248.1 L524.4,247.6 L524.4,247.1 L524.4,246.6 L524.5,246.1 L524.5,245.5 L524.5,245.0 L524.6,244.5 L524.6,244.0 L524.6,243.5 L524.7,243.0 L524.7,242.5 L524.7,241.9 L524.8,241.4 L524.8,240.9 L524.8,240.4 L524.9,239.9 L524.9,239.4 L524.9,238.9 L525.0,238.4 L525.0,237.8 L525.1,237.3 L525.1,236.7 L525.2,236.1 L525.2,235.5 L525.2,234.9 L525.3,234.3 L525.3,233.7 L525.4,233.0 L525.4,232.4 L525.5,231.8 L525.5,231.1 L525.6,230.5 L525.6,229.8 L525.7,229.2 L525.8,228.5 L525.8,227.9 L525.9,227.2 L525.9,226.6 L526.0,226.0 L526.0,225.3 L526.1,224.7 L526.1,224.1 L526.2,223.5 L526.3,222.9 L526.3,222.3 L526.4,221.8 L526.4,221.2 L526.5,220.7 L526.5,220.2 L526.6,219.7 L526.6,219.2 L526.7,218.7 L526.7,218.2 L526.8,217.8 L526.9,217.4 L526.9,217.0 L527.0,216.7 L527.0,216.3 L527.1,216.0 L527.1,215.7 L527.2,215.5 L527.2,215.3 L527.3,215.1 L527.3,214.9 L527.4,214.8 L527.4,214.7 L527.5,214.6 L527.5,214.6 L527.6,214.7 L527.6,214.8 L527.7,214.9 L527.8,215.1 L527.8,215.4 L527.9,215.7 L527.9,216.1 L528.0,216.5 L528.0,216.9 L528.1,217.4 L528.1,217.9 L528.2,218.5 L528.2,219.0 L528.3,219.6 L528.4,220.3 L528.4,220.9 L528.5,221.6 L528.5,222.3 L528.6,222.9 L528.6,223.7 L528.7,224.4 L528.7,225.1 L528.8,225.8 L528.8,226.5 L528.9,227.3 L528.9,228.0 L529.0,228.7 L529.1,229.4 L529.1,230.1 L529.2,230.7 L529.2,231.4 L529.3,232.0 L529.3,232.4 L529.4,232.9 L529.4,233.3 L529.5,233.8 L529.5,234.2 L529.6,234.7 L529.6,235.2 L529.7,235.7 L529.7,236.2 L529.8,236.6 L529.8,237.1 L529.9,237.6 L529.9,238.1 L530.0,238.7 L530.0,239.2 L530.1,239.7 L530.2,240.2 L530.2,240.7 L530.3,241.3 L530.3,241.8 L530.4,242.3 L530.4,242.9 L530.5,243.4 L530.5,243.9 L530.6,244.5 L530.6,245.0 L530.7,245.5 L530.7,246.1 L530.8,246.6 L530.9,247.1 L530.9,247.7 L531.0,248.2 L531.0,248.7 L531.1,249.3 L531.1,249.8 L531.2,250.3 L531.2,250.8 L531.3,251.3 L531.3,251.9 L531.4,252.4 L531.4,252.9 L531.5,253.4 L531.5,253.9 L531.6,254.3 L531.6,254.8 L531.7,255.3 L531.7,255.8 L531.8,256.2 L531.8,256.7 L531.9,257.3 L531.9,257.8 L532.0,258.4 L532.0,258.9 L532.1,259.5 L532.1,260.0 L532.2,260.6 L532.2,261.1 L532.3,261.6 L532.3,262.2 L532.4,262.7 L532.4,263.2 L532.5,263.7 L532.5,264.2 L532.6,264.7 L532.6,265.2 L532.7,265.7 L532.7,266.2 L532.8,266.7 L532.8,267.2 L532.8,267.7 L532.9,268.2 L532.9,268.7 L533.0,269.2 L533.0,269.7 L533.1,270.2 L533.1,270.6 L533.1,271.1 L533.2,271.6 L533.2,272.1 L533.3,272.6 L533.3,273.1 L533.4,273.6 L533.4,274.1 L533.4,274.5 L533.5,275.0 L533.5,275.5 L533.6,276.0 L533.6,276.5 L533.6,277.0 L533.7,277.6 L533.7,278.1 L533.8,278.6 L533.8,279.2 L533.8,279.7 L533.9,280.2 L533.9,280.8 L533.9,281.3 L534.0,281.9 L534.0,282.4 L534.0,283.0 L534.1,283.5 L534.1,284.1 L534.1,284.6 L534.2,285.2 L534.2,285.7 L534.2,286.2 L534.3,286.8 L534.3,287.3 L534.3,287.8 L534.4,288.3 L534.4,288.9 L534.4,289.4 L534.5,289.9 L534.5,290.4 L534.5,290.8 L534.6,291.3 L534.6,291.8 L534.6,292.3 L534.7,292.7 L534.7,293.2 L534.7,293.6 L534.8,294.0 L534.8,294.4 L534.9,294.8 L534.9,295.2 L535.0,295.9 L535.1,296.6 L535.1,297.2 L535.2,297.8 L535.3,298.4 L535.4,299.0 L535.5,299.5 L535.6,300.0 L535.7,300.4 L535.8,300.9 L535.9,301.3 L536.0,301.8 L536.1,302.2 L536.1,302.6 L536.2,303.0 L536.3,303.4 L536.4,303.8 L536.4,304.2 L536.5,304.6 L536.6,305.3 L536.7,305.9 L536.8,306.5 L536.8,307.2 L536.9,307.8 L537.0,308.3 L537.0,308.9 L537.1,309.4 L537.1,309.8 L537.1,310.3 L537.2,310.6 L537.2,310.9" fill="none" stroke="#ff0000" stroke-width="2.5" stroke-linejoin="round" stroke-linecap="round"/>
<path d="M66.5,236.6 L66.8,237.2 L67.1,235.9 L67.5,237.1 L67.9,236.3 L68.4,236.3 L68.9,237.6 L69.5,236.5 L70.0,236.4 L70.6,236.8 L71.2,237.0 L71.8,236.3 L72.4,236.7 L72.9,235.7 L73.5,236.1 L74.0,236.0 L74.5,235.4 L75.0,235.3 L75.5,235.2 L76.1,236.0 L76.6,236.0 L77.1,235.9 L77.7,236.0 L78.2,235.2 L78.7,235.9 L79.1,236.0 L79.6,236.3 L80.1,235.3 L80.6,235.5 L81.1,234.5 L81.5,235.3 L82.0,234.3 L82.5,234.7 L83.1,236.2 L83.6,234.2 L84.1,237.4 L84.7,238.9 L85.2,238.2 L85.7,237.0 L86.2,235.6 L86.7,235.9 L87.1,235.1 L87.6,234.9 L88.0,234.8 L88.6,234.6 L89.1,235.1 L89.6,234.6 L90.0,235.4 L90.4,233.3 L90.9,233.3 L91.4,233.5 L92.0,233.3 L92.4,235.8 L92.9,233.2 L93.4,234.4 L93.9,234.2 L94.4,235.5 L95.0,233.2 L95.5,235.0 L96.1,233.9 L96.6,234.8 L97.1,235.6 L97.6,237.1 L98.0,235.0 L98.6,234.0 L99.2,233.9 L99.8,234.6 L100.4,231.8 L100.9,233.9 L101.4,233.4 L101.8,232.4 L102.2,232.7 L102.9,232.1 L103.3,233.9 L104.0,233.5 L104.4,232.6 L104.8,231.8 L105.3,231.1 L105.8,230.8 L106.3,230.3 L106.8,230.9 L107.3,229.4 L107.7,228.8 L108.1,229.3 L108.5,228.9 L108.8,228.5 L109.1,228.1 L109.4,227.6 L109.6,227.2 L109.8,226.8 L110.1,226.3 L110.3,225.9 L110.6,225.5 L110.8,225.0 L111.1,224.6 L111.3,224.1 L111.6,223.7 L111.8,223.2 L112.1,222.8 L112.3,222.4 L112.6,221.9 L112.8,221.5 L113.1,221.0 L113.3,220.5 L113.6,220.1 L113.8,219.6 L114.1,219.2 L114.4,218.8 L114.6,218.3 L114.9,217.8 L115.2,217.4 L115.4,217.0 L115.7,216.5 L115.9,216.1 L116.2,215.7 L116.5,215.2 L116.9,214.7 L117.2,214.3 L117.5,213.8 L117.9,213.4 L118.2,212.9 L118.5,212.5 L118.7,212.1 L119.0,211.7 L119.3,211.3 L119.6,210.9 L119.9,210.5 L120.2,210.0 L120.5,209.6 L120.8,209.2 L121.1,208.8 L121.5,208.4 L121.8,207.9 L122.2,207.5 L122.5,207.0 L122.9,206.6 L123.2,206.1 L123.5,205.7 L123.8,205.2 L124.1,204.8 L124.4,204.3 L124.8,203.8 L125.1,203.4 L125.4,202.9 L125.7,202.5 L126.0,202.0 L126.3,201.6 L126.6,201.1 L127.0,200.7 L127.3,200.2 L127.6,199.8 L128.0,199.4 L128.3,198.9 L128.6,198.5 L129.0,198.1 L129.3,197.7 L129.6,197.3 L130.0,196.9 L130.3,196.5 L130.6,196.1 L131.0,195.7 L131.3,195.3 L131.6,194.9 L132.0,194.6 L132.3,194.2 L132.7,193.8 L133.1,193.4 L133.5,193.0 L133.9,192.6 L134.3,192.3 L134.7,191.9 L135.1,191.6 L135.5,191.3 L136.0,190.9 L136.5,190.6 L137.0,190.3 L137.5,190.0 L137.9,189.7 L138.3,189.5 L138.9,189.1 L139.3,188.9 L140.0,188.8 L140.4,188.9 L140.9,188.9 L141.4,189.1 L141.9,189.2 L142.4,189.4 L143.0,189.7 L143.6,190.0 L144.0,190.2 L144.4,190.5 L144.8,190.8 L145.2,191.1 L145.6,191.4 L146.1,191.7 L146.5,192.1 L146.9,192.5 L147.4,192.8 L147.8,193.2 L148.2,193.6 L148.5,193.9 L148.9,194.3 L149.2,194.7 L149.6,195.1 L149.9,195.5 L150.3,195.9 L150.6,196.3 L151.0,196.7 L151.3,197.1 L151.7,197.5 L152.0,197.9 L152.4,198.3 L152.7,198.6 L153.1,199.0 L153.5,199.4 L154.0,199.7 L154.4,200.1 L154.8,200.4 L155.2,200.7 L155.6,201.1 L156.0,201.4 L156.5,201.6 L156.9,201.9 L157.3,202.2 L157.8,202.5 L158.2,202.7 L158.7,203.0 L159.1,203.2 L159.6,203.4 L160.0,203.6 L160.4,203.8 L160.9,204.0 L161.3,204.2 L161.8,204.4 L162.3,204.6 L162.7,204.8 L163.2,205.1 L163.6,205.3 L164.1,205.5 L164.6,205.7 L165.0,205.9 L165.5,206.1 L165.9,206.4 L166.4,206.6 L166.9,206.8 L167.3,207.1 L167.8,207.3 L168.2,207.6 L168.7,207.8 L169.1,208.1 L169.5,208.3 L170.0,208.6 L170.4,208.8 L170.9,209.1 L171.4,209.4 L171.8,209.6 L172.3,209.9 L172.7,210.2 L173.2,210.4 L173.7,210.7 L174.1,211.0 L174.6,211.3 L175.0,211.5 L175.5,211.8 L176.0,212.1 L176.4,212.3 L176.9,212.6 L177.3,212.9 L177.8,213.2 L178.2,213.4 L178.7,213.7 L179.1,214.0 L179.6,214.2 L180.0,214.5 L180.4,214.8 L180.9,215.0 L181.3,215.2 L181.8,215.5 L182.2,215.7 L182.7,216.0 L183.1,216.2 L183.6,216.4 L184.0,216.7 L184.5,216.9 L185.0,217.1 L185.4,217.4 L185.9,217.6 L186.3,217.8 L186.8,218.0 L187.3,218.3 L187.7,218.5 L188.2,218.7 L188.6,218.9 L189.1,219.1 L189.6,219.3 L190.1,219.5 L190.6,219.7 L191.1,220.0 L191.6,220.2 L192.1,220.4 L192.6,220.5 L193.1,220.7 L193.6,220.9 L194.1,221.1 L194.6,221.2 L195.1,221.4 L195.6,221.5 L196.2,221.7 L196.7,221.8 L197.2,221.9 L197.7,222.1 L198.2,222.2 L198.7,222.3 L199.2,222.4 L199.8,222.5 L200.3,222.6 L200.8,222.7 L201.3,222.8 L201.8,222.9 L202.3,223.0 L202.7,223.1 L203.4,223.3 L204.0,223.4 L204.6,223.6 L205.1,223.7 L205.5,223.7 L206.1,223.3 L206.6,223.0 L207.0,223.2 L207.4,223.5 L207.8,223.9 L208.2,224.3 L208.6,224.6 L209.0,224.9 L209.4,225.2 L210.0,225.5 L210.4,225.7 L210.9,225.9 L211.4,226.1 L212.0,226.3 L212.5,226.5 L213.1,226.7 L213.6,226.9 L214.1,227.1 L214.6,227.2 L215.1,227.3 L215.6,227.4 L216.1,227.6 L216.7,227.7 L217.3,227.8 L217.8,227.9 L218.2,228.0 L218.7,228.1 L219.2,228.2 L219.8,228.3 L220.3,228.4 L220.9,228.5 L221.5,228.6 L222.1,228.7 L222.7,228.8 L223.2,228.9 L223.7,229.0 L224.2,229.1 L224.7,229.2 L225.2,229.2 L225.8,229.3 L226.3,229.4 L226.9,229.5 L227.4,229.6 L228.0,229.7 L228.5,229.8 L229.0,229.9 L229.5,230.0 L230.0,230.1 L230.6,230.2 L231.1,230.3 L231.5,230.4 L232.0,230.6 L232.4,230.7 L232.9,230.8 L233.3,230.9 L233.8,231.0 L234.3,231.1 L234.9,231.2 L235.5,231.3 L235.9,231.4 L236.3,231.4 L236.8,231.5 L237.3,231.5 L237.7,231.6 L238.2,231.6 L238.7,231.7 L239.3,231.7 L239.8,231.8 L240.3,231.8 L240.8,231.9 L241.4,231.9 L241.9,232.0 L242.4,232.0 L243.0,232.1 L243.5,232.1 L244.0,232.2 L244.5,232.2 L245.0,232.3 L245.5,232.3 L246.0,232.4 L246.5,232.4 L247.0,232.5 L247.5,232.5 L248.0,232.6 L248.5,232.6 L249.0,232.7 L249.6,232.7 L250.1,232.8 L250.6,232.8 L251.1,232.9 L251.6,232.9 L252.1,233.0 L252.6,233.0 L253.1,233.1 L253.6,233.1 L254.1,233.1 L254.6,233.2 L255.1,233.2 L255.6,233.3 L256.1,233.3 L256.6,233.4 L257.1,233.4 L257.6,233.4 L258.1,233.5 L258.7,233.5 L259.2,233.6 L259.7,233.6 L260.2,233.6 L260.7,233.7 L261.2,233.7 L261.7,233.7 L262.2,233.8 L262.7,233.8 L263.2,233.8 L263.7,233.9 L264.3,233.9 L264.8,233.9 L265.3,233.9 L265.8,234.0 L266.4,234.0 L266.9,234.0 L267.4,234.1 L268.0,234.1 L268.5,234.1 L269.0,234.1 L269.5,234.1 L270.0,234.2 L270.5,234.2 L270.9,234.2 L271.4,234.2 L271.8,234.2 L272.4,234.2 L273.0,234.2 L273.7,234.2 L274.2,234.2 L274.8,234.2 L275.3,234.2 L275.9,234.2 L276.4,234.1 L276.8,234.1 L277.2,234.1 L277.6,234.0 L278.0,234.0 L278.8,233.8 L279.2,233.5 L279.5,233.3 L280.0,233.2 L280.4,233.2 L280.8,233.4 L281.2,233.9 L281.7,233.9 L282.3,233.9 L283.0,234.5 L283.4,234.3 L283.7,234.2 L284.1,234.2 L284.4,234.4 L284.8,234.2 L285.2,234.2 L285.7,234.2 L286.1,234.3 L286.6,234.5 L287.2,234.3 L287.8,234.2 L288.5,234.5 L289.2,234.5 L290.0,234.6 L290.4,234.7 L290.8,234.5 L291.2,234.5 L291.6,234.6 L292.0,234.5 L292.5,234.7 L292.9,234.8 L293.4,234.7 L293.9,234.7 L294.4,234.7 L294.9,234.7 L295.4,234.7 L295.9,234.8 L296.4,234.8 L297.0,234.9 L297.5,234.8 L298.1,235.0 L298.6,235.0 L299.2,234.9 L299.7,234.8 L300.3,235.1 L300.8,235.3 L301.4,235.1 L302.0,235.2 L302.5,235.2 L303.1,235.4 L303.6,235.2 L304.2,235.5 L304.8,235.4 L305.3,235.5 L305.9,235.5 L306.4,235.5 L306.9,235.3 L307.4,235.5 L307.8,235.5 L308.3,235.7 L308.8,235.7 L309.3,235.6 L309.8,235.7 L310.3,235.8 L310.8,235.7 L311.3,235.7 L311.8,235.7 L312.3,235.9 L312.8,235.9 L313.3,235.7 L313.8,235.9 L314.3,235.8 L314.8,235.8 L315.3,236.1 L315.8,236.1 L316.4,235.9 L316.9,236.0 L317.4,236.1 L317.9,236.0 L318.4,236.1 L318.9,236.2 L319.4,235.9 L319.9,236.2 L320.4,236.3 L320.9,236.3 L321.5,236.1 L322.0,236.3 L322.5,236.2 L323.0,236.4 L323.5,236.4 L324.0,236.4 L324.5,236.3 L325.0,236.4 L325.5,236.6 L326.0,236.4 L326.6,236.6 L327.1,236.6 L327.7,236.5 L328.2,236.9 L328.7,236.6 L329.3,236.9 L329.9,236.4 L330.4,236.4 L331.0,236.8 L331.5,236.8 L332.1,236.7 L332.6,236.8 L333.2,236.6 L333.7,236.8 L334.3,236.8 L334.8,236.9 L335.4,237.1 L335.9,237.0 L336.4,237.0 L336.9,236.9 L337.4,237.0 L337.9,237.1 L338.4,237.1 L338.9,237.3 L339.4,237.0 L339.8,237.4 L340.3,237.1 L340.7,237.3 L341.2,237.1 L341.6,237.4 L342.0,237.3 L342.3,237.3 L342.7,237.4 L343.6,237.3 L344.3,237.2 L345.0,237.1 L345.6,237.6 L346.1,237.3 L346.6,237.4 L347.1,237.5 L347.5,237.7 L347.9,237.3 L348.3,237.5 L348.7,237.4 L349.1,237.6 L349.5,237.3 L350.0,237.5 L350.6,237.6 L351.2,237.7 L351.7,237.8 L352.3,237.5 L352.9,237.6 L353.5,237.6 L354.0,237.5 L354.5,237.5 L355.1,237.7 L355.5,237.6 L356.0,237.6 L356.4,237.6 L357.0,237.2 L357.5,237.1 L358.0,236.8 L358.3,236.5 L358.7,236.2 L359.1,235.8 L359.5,235.5 L360.0,235.2 L360.4,234.8 L360.9,234.5 L361.4,234.2 L361.9,233.8 L362.3,233.5 L362.7,233.3 L363.2,233.0 L363.7,232.7 L364.1,232.6 L364.6,232.4 L365.1,232.3 L365.6,232.3 L366.2,232.2 L366.7,232.2 L367.3,232.1 L367.8,232.0 L368.3,231.8 L368.7,231.6 L369.1,231.4 L369.6,231.1 L370.0,230.8 L370.4,230.5 L370.8,230.2 L371.1,229.8 L371.5,229.4 L371.9,229.0 L372.2,228.6 L372.6,228.2 L372.9,227.9 L373.4,227.5 L373.9,227.1 L374.3,226.9 L374.8,226.9 L375.3,227.1 L375.7,227.4 L376.2,227.9 L376.7,228.5 L377.0,228.8 L377.2,229.2 L377.5,229.7 L377.8,230.2 L378.1,230.7 L378.4,231.1 L378.7,231.6 L379.0,232.0 L379.3,232.4 L379.7,232.9 L380.1,233.3 L380.5,233.6 L380.9,234.0 L381.3,234.2 L381.8,234.5 L382.3,234.7 L382.8,234.8 L383.3,234.9 L383.9,235.0 L384.5,235.1 L385.0,235.2 L385.6,235.3 L386.1,235.4 L386.6,235.6 L387.1,235.8 L387.6,235.9 L388.0,236.1 L388.5,236.3 L389.0,236.5 L389.5,236.6 L390.0,236.8 L390.6,236.9 L391.1,237.1 L391.7,237.2 L392.2,237.4 L392.8,237.5 L393.3,237.5 L393.8,237.5 L394.4,237.4 L394.9,237.3 L395.5,237.2 L396.0,237.1 L396.6,236.9 L397.1,236.8 L397.6,236.7 L398.1,236.5 L398.5,236.4 L399.0,236.2 L399.5,236.0 L399.9,235.9 L400.4,235.7 L400.9,235.5 L401.4,235.3 L401.8,235.1 L402.3,234.8 L402.8,234.6 L403.3,234.4 L403.8,234.2 L404.2,234.0 L404.7,234.0 L405.2,234.1 L405.6,234.2 L406.1,234.4 L406.6,234.6 L407.1,234.9 L407.5,235.1 L408.0,235.3 L408.5,235.5 L409.1,235.6 L409.6,235.7 L410.2,235.8 L410.7,235.9 L411.3,235.9 L411.8,235.9 L412.4,235.9 L412.9,235.8 L413.4,235.7 L413.9,235.5 L414.4,235.4 L414.9,235.1 L415.4,234.9 L415.8,234.7 L416.2,234.5 L416.7,234.2 L417.0,234.0 L417.4,233.7 L417.7,233.3 L418.1,233.0 L418.5,232.5 L418.8,232.2 L419.1,231.8 L419.4,231.5 L419.7,231.1 L420.1,230.7 L420.4,230.3 L420.7,229.9 L421.1,229.4 L421.3,228.9 L421.6,228.4 L421.8,228.0 L421.9,227.6 L422.1,227.2 L422.2,226.8 L422.4,226.3 L422.5,225.9 L422.6,225.4 L422.8,225.0 L422.9,224.4 L423.0,223.9 L423.1,223.3 L423.3,222.7 L423.4,222.1 L423.5,221.7 L423.6,221.2 L423.7,220.8 L423.7,220.3 L423.8,219.8 L423.9,219.3 L424.0,218.8 L424.1,218.3 L424.2,217.8 L424.3,217.2 L424.3,216.7 L424.4,216.2 L424.5,215.6 L424.6,215.1 L424.7,214.5 L424.8,214.0 L424.9,213.4 L424.9,212.9 L425.0,212.3 L425.1,211.8 L425.2,211.3 L425.3,210.8 L425.4,210.3 L425.5,209.8 L425.5,209.3 L425.6,208.7 L425.7,208.2 L425.8,207.7 L425.9,207.2 L425.9,206.7 L426.0,206.2 L426.1,205.7 L426.2,205.2 L426.3,204.7 L426.3,204.2 L426.4,203.7 L426.5,203.2 L426.6,202.6 L426.7,202.1 L426.8,201.6 L426.9,201.1 L427.0,200.6 L427.1,200.1 L427.2,199.6 L427.3,199.1 L427.4,198.6 L427.5,198.1 L427.6,197.6 L427.7,197.0 L427.8,196.5 L428.0,196.0 L428.1,195.5 L428.2,195.0 L428.3,194.5 L428.4,194.0 L428.5,193.5 L428.7,193.0 L428.8,192.5 L428.9,192.0 L429.0,191.5 L429.1,191.1 L429.3,190.6 L429.4,190.2 L429.5,189.8 L429.7,189.2 L429.8,188.7 L430.0,188.1 L430.2,187.6 L430.4,187.1 L430.5,186.7 L430.7,186.2 L430.9,185.8 L431.0,185.3 L431.2,184.9 L431.4,184.4 L431.6,184.0 L431.8,183.5 L432.0,183.1 L432.2,182.6 L432.4,182.1 L432.6,181.7 L432.8,181.2 L433.1,180.8 L433.3,180.3 L433.5,179.9 L433.8,179.4 L434.0,178.9 L434.3,178.5 L434.5,178.0 L434.7,177.6 L435.0,177.1 L435.2,176.7 L435.4,176.3 L435.6,175.8 L435.8,175.4 L436.0,174.9 L436.2,174.4 L436.4,173.9 L436.6,173.3 L436.7,172.8 L436.9,172.3 L437.0,171.8 L437.2,171.4 L437.3,170.9 L437.5,170.4 L437.7,169.9 L437.8,169.5 L438.0,169.0 L438.2,168.5 L438.4,168.0 L438.6,167.6 L438.8,167.1 L439.1,166.7 L439.3,166.2 L439.5,165.8 L439.7,165.3 L439.9,164.9 L440.1,164.4 L440.3,164.0 L440.5,163.5 L440.7,163.0 L440.9,162.6 L441.0,162.1 L441.2,161.7 L441.3,161.3 L441.5,160.8 L441.6,160.4 L441.8,159.9 L441.9,159.3 L442.1,158.8 L442.2,158.2 L442.4,157.5 L442.5,157.1 L442.6,156.7 L442.7,156.2 L442.7,155.7 L442.8,155.2 L442.9,154.7 L443.0,154.2 L443.1,153.7 L443.2,153.1 L443.2,152.6 L443.3,152.0 L443.4,151.4 L443.5,150.9 L443.6,150.3 L443.7,149.8 L443.7,149.2 L443.8,148.7 L443.9,148.2 L444.0,147.7 L444.1,147.2 L444.2,146.7 L444.3,146.1 L444.4,145.5 L444.6,144.9 L444.7,144.3 L444.8,143.6 L444.9,142.9 L445.1,142.3 L445.2,141.6 L445.3,141.0 L445.5,140.4 L445.6,139.9 L445.7,139.4 L445.9,138.9 L446.0,138.5 L446.1,138.2 L446.2,138.0 L446.4,137.9 L446.5,137.8 L446.6,137.8 L446.8,138.0 L446.9,138.2 L447.0,138.5 L447.1,138.8 L447.3,139.2 L447.4,139.7 L447.5,140.2 L447.6,140.8 L447.8,141.4 L447.9,142.0 L448.0,142.7 L448.1,143.3 L448.2,144.0 L448.4,144.7 L448.5,145.4 L448.6,146.0 L448.7,146.7 L448.8,147.1 L448.8,147.5 L448.9,148.0 L449.0,148.4 L449.0,148.9 L449.1,149.3 L449.2,149.8 L449.2,150.3 L449.3,150.8 L449.3,151.3 L449.4,151.8 L449.5,152.3 L449.5,152.8 L449.6,153.3 L449.6,153.8 L449.7,154.3 L449.8,154.9 L449.8,155.4 L449.9,155.9 L449.9,156.4 L450.0,157.0 L450.0,157.5 L450.1,158.0 L450.1,158.5 L450.2,159.1 L450.2,159.6 L450.3,160.1 L450.3,160.6 L450.4,161.1 L450.5,161.6 L450.5,162.1 L450.6,162.7 L450.6,163.2 L450.7,163.7 L450.7,164.3 L450.8,164.8 L450.8,165.4 L450.9,165.9 L450.9,166.4 L451.0,167.0 L451.0,167.5 L451.1,168.1 L451.1,168.6 L451.1,169.1 L451.2,169.7 L451.2,170.2 L451.3,170.7 L451.3,171.2 L451.4,171.7 L451.4,172.2 L451.5,172.7 L451.5,173.2 L451.5,173.7 L451.6,174.2 L451.6,174.6 L451.7,175.1 L451.7,175.5 L451.8,176.1 L451.8,176.7 L451.9,177.2 L451.9,177.8 L452.0,178.3 L452.0,178.8 L452.1,179.3 L452.1,179.7 L452.2,180.2 L452.2,180.6 L452.2,181.1 L452.3,181.5 L452.3,182.0 L452.4,182.4 L452.4,182.9 L452.5,183.4 L452.5,183.9 L452.6,184.4 L452.6,185.0 L452.6,185.5 L452.7,185.9 L452.7,186.4 L452.7,186.8 L452.8,187.3 L452.8,187.8 L452.9,188.3 L452.9,188.8 L452.9,189.3 L453.0,189.8 L453.0,190.3 L453.0,190.8 L453.1,191.3 L453.1,191.8 L453.1,192.3 L453.2,192.8 L453.2,193.3 L453.3,193.9 L453.3,194.4 L453.3,194.9 L453.4,195.4 L453.4,196.0 L453.5,196.5 L453.5,197.0 L453.5,197.5 L453.6,198.0 L453.6,198.5 L453.7,199.0 L453.7,199.5 L453.7,200.1 L453.8,200.6 L453.8,201.1 L453.9,201.6 L453.9,202.2 L454.0,202.7 L454.0,203.3 L454.0,203.8 L454.1,204.3 L454.1,204.9 L454.2,205.4 L454.2,205.9 L454.3,206.4 L454.3,206.9 L454.3,207.4 L454.4,207.9 L454.4,208.3 L454.5,208.8 L454.5,209.3 L454.6,209.7 L454.6,210.1 L454.7,210.7 L454.7,211.4 L454.8,212.0 L454.9,212.5 L454.9,213.1 L455.0,213.6 L455.0,214.1 L455.1,214.6 L455.2,215.1 L455.2,215.5 L455.3,216.0 L455.4,216.4 L455.4,216.9 L455.5,217.3 L455.5,217.8 L455.6,218.2 L455.7,218.8 L455.8,219.4 L455.8,219.9 L455.9,220.5 L456.0,221.1 L456.1,221.6 L456.1,222.1 L456.2,222.6 L456.3,223.1 L456.4,223.5 L456.5,223.9 L456.6,224.3 L456.9,225.1 L457.2,225.8 L457.5,226.4 L457.8,226.7 L458.1,226.8 L458.3,226.6 L458.5,226.2 L458.8,225.7 L459.0,225.1 L459.2,224.4 L459.4,223.8 L459.7,223.3 L460.0,222.8 L460.3,222.2 L460.7,221.7 L461.0,221.3 L461.4,220.9 L461.7,220.7 L462.2,220.6 L462.7,220.8 L463.2,221.1 L463.7,221.7 L463.9,222.0 L464.2,222.4 L464.4,222.8 L464.6,223.3 L464.9,223.8 L465.1,224.3 L465.4,224.9 L465.7,225.4 L465.9,225.8 L466.2,226.3 L466.5,226.7 L466.8,227.1 L467.1,227.5 L467.4,227.9 L467.7,228.3 L468.0,228.7 L468.4,229.1 L468.7,229.5 L469.0,229.9 L469.3,230.3 L469.6,230.7 L469.9,231.1 L470.2,231.6 L470.5,232.0 L470.7,232.4 L471.0,232.9 L471.3,233.3 L471.6,233.7 L472.0,234.1 L472.3,234.4 L472.7,234.8 L473.1,235.2 L473.6,235.6 L474.1,236.0 L474.5,236.3 L475.0,236.6 L475.5,236.8 L475.9,236.9 L476.3,236.9 L476.7,236.8 L477.1,236.5 L477.4,236.2 L477.8,235.8 L478.1,235.4 L478.4,234.9 L478.8,234.4 L479.1,233.9 L479.4,233.4 L479.7,233.0 L480.0,232.5 L480.2,232.0 L480.5,231.5 L480.8,231.0 L481.0,230.5 L481.2,230.0 L481.5,229.5 L481.7,229.1 L481.9,228.8 L482.3,228.1 L482.7,227.7 L483.0,227.4 L483.4,227.3 L483.8,227.4 L484.2,227.6 L484.6,228.0 L485.0,228.4 L485.4,228.8 L485.7,229.2 L486.1,229.7 L486.4,230.2 L486.7,230.7 L487.1,231.2 L487.4,231.6 L487.8,232.0 L488.2,232.8 L488.7,232.5 L489.1,233.0 L489.6,233.1 L490.1,232.9 L490.6,233.2 L491.1,232.6 L491.7,233.1 L492.3,232.4 L492.8,232.3 L493.3,232.4 L493.8,232.3 L494.3,232.1 L494.8,231.9 L495.4,231.4 L495.9,230.9 L496.4,231.1 L496.9,230.9 L497.4,230.3 L498.0,230.6 L498.5,230.2 L499.0,229.6 L499.5,229.7 L500.0,229.0 L500.4,228.9 L500.9,229.0 L501.4,228.1 L501.8,228.3 L502.3,227.6 L502.7,228.0 L503.2,227.3 L503.7,227.3 L504.1,226.6 L504.6,226.7 L505.0,226.8 L505.4,226.4 L505.9,225.5 L506.3,226.1 L506.8,225.8 L507.3,225.3 L507.9,225.5 L508.4,224.6 L509.0,224.7 L509.5,224.9 L510.0,224.7 L510.5,224.6 L511.0,223.7 L511.5,223.3 L512.0,223.7 L512.5,223.1 L512.9,223.4 L513.4,223.0 L513.9,223.8 L514.4,224.0 L514.9,224.2 L515.3,224.4 L515.8,224.7 L516.3,224.9 L516.8,225.4 L517.3,225.8 L517.8,226.2 L518.3,226.3 L518.8,227.2 L519.2,226.9 L519.7,227.2 L520.2,226.9 L520.6,226.0 L521.0,225.8 L521.3,225.5 L521.6,225.2 L521.8,224.7 L522.0,224.2 L522.3,223.5 L522.4,223.1 L522.5,222.7 L522.6,222.3 L522.7,221.8 L522.9,221.3 L523.0,220.8 L523.1,220.3 L523.2,219.7 L523.3,219.2 L523.4,218.6 L523.5,218.0 L523.6,217.5 L523.7,217.0 L523.8,216.6 L523.8,216.1 L523.9,215.6 L524.0,215.1 L524.0,214.6 L524.1,214.1 L524.2,213.6 L524.2,213.1 L524.3,212.6 L524.4,212.1 L524.4,211.5 L524.5,211.0 L524.6,210.5 L524.7,210.0 L524.8,209.5 L524.8,209.0 L524.9,208.5 L525.0,207.9 L525.1,207.4 L525.2,206.9 L525.3,206.3 L525.4,205.8 L525.5,205.3 L525.5,204.8 L525.6,204.3 L525.7,203.8 L525.8,203.4 L525.9,203.0 L526.0,202.3 L526.2,201.7 L526.3,201.1 L526.5,200.5 L526.6,200.0 L526.8,199.5 L526.9,199.1 L527.1,198.8 L527.2,198.6 L527.5,198.5 L527.9,198.8 L528.3,199.5 L528.6,200.4 L528.7,200.8 L528.8,201.1 L528.9,201.6 L529.0,202.0 L529.1,202.5 L529.2,203.0 L529.3,203.6 L529.4,204.1 L529.5,204.7 L529.6,205.3 L529.8,205.9 L529.9,206.5 L530.0,206.9 L530.1,207.4 L530.2,207.8 L530.3,208.3 L530.4,208.8 L530.6,209.3 L530.7,209.8 L530.8,210.3 L530.9,210.9 L531.0,211.4 L531.2,211.9 L531.3,212.4 L531.4,212.9 L531.5,213.4 L531.7,213.9 L531.8,214.3 L531.9,214.8 L532.0,215.3 L532.2,215.9 L532.3,216.4 L532.5,217.0 L532.6,217.5 L532.8,218.0 L532.9,218.5 L533.1,219.0 L533.3,219.5 L533.4,220.0 L533.6,220.5 L533.7,220.9 L533.9,221.4 L534.0,221.8 L534.2,222.4 L534.4,222.9 L534.6,223.4 L534.8,223.9 L535.1,224.4 L535.3,224.9 L535.5,225.3 L535.6,225.8 L535.8,226.3 L536.0,226.8 L536.1,227.3 L536.3,227.8 L536.4,228.4 L536.6,229.0 L536.7,229.6 L536.8,230.1 L537.0,230.7 L537.1,231.2 L537.2,231.6 L537.2,232.0 L537.3,232.3" fill="none" stroke="#0000ff" stroke-width="2.5" stroke-linejoin="round" stroke-linecap="round"/>
<line x1="139.70" y1="178.7" x2="139.70" y2="330.6" stroke="#cacaca" stroke-width="1.2"/>
<line x1="206.60" y1="210.5" x2="206.60" y2="362.0" stroke="#cacaca" stroke-width="1.2"/>
<line x1="215.20" y1="210.5" x2="215.20" y2="362.0" stroke="#cacaca" stroke-width="1.2"/>
<line x1="364.30" y1="217.7" x2="364.30" y2="369.0" stroke="#cacaca" stroke-width="1.2"/>
<line x1="374.60" y1="216.5" x2="374.60" y2="366.2" stroke="#cacaca" stroke-width="1.2"/>
<line x1="404.60" y1="216.0" x2="404.60" y2="366.7" stroke="#cacaca" stroke-width="1.2"/>
<line x1="446.60" y1="37.5" x2="446.60" y2="361.1" stroke="#cacaca" stroke-width="1.2"/>
<line x1="483.40" y1="217.2" x2="483.40" y2="365.5" stroke="#cacaca" stroke-width="1.2"/>
<line x1="513.40" y1="204.9" x2="513.40" y2="356.5" stroke="#cacaca" stroke-width="1.2"/>
<line x1="527.50" y1="182.5" x2="527.50" y2="334.0" stroke="#cacaca" stroke-width="1.2"/>
<path d="M66.25,24.70 V370.80 H538.10" fill="none" stroke="#000" stroke-width="1.8" stroke-linecap="square"/>
<path d="M66.25,370.80 v7.0 M98.84,370.80 v3.8 M131.44,370.80 v7.0 M164.03,370.80 v3.8 M196.63,370.80 v7.0 M229.22,370.80 v3.8 M261.82,370.80 v7.0 M294.41,370.80 v3.8 M327.01,370.80 v7.0 M359.61,370.80 v3.8 M392.20,370.80 v7.0 M424.80,370.80 v3.8 M457.39,370.80 v7.0 M489.99,370.80 v3.8 M522.58,370.80 v7.0 M66.25,370.80 h-7.0 M66.25,349.17 h-3.8 M66.25,327.54 h-7.0 M66.25,305.91 h-3.8 M66.25,284.28 h-7.0 M66.25,262.65 h-3.8 M66.25,241.02 h-7.0 M66.25,219.39 h-3.8 M66.25,197.76 h-7.0 M66.25,176.13 h-3.8 M66.25,154.50 h-7.0 M66.25,132.87 h-3.8 M66.25,111.24 h-7.0 M66.25,89.61 h-3.8 M66.25,67.98 h-7.0 M66.25,46.35 h-3.8 M66.25,24.72 h-7.0" fill="none" stroke="#000" stroke-width="1.8"/>
<text x="54.1" y="376.40" text-anchor="end" font-size="17">0.0</text>
<text x="54.1" y="333.14" text-anchor="end" font-size="17">0.1</text>
<text x="54.1" y="289.88" text-anchor="end" font-size="17">0.2</text>
<text x="54.1" y="246.62" text-anchor="end" font-size="17">0.3</text>
<text x="54.1" y="203.36" text-anchor="end" font-size="17">0.4</text>
<text x="54.1" y="160.10" text-anchor="end" font-size="17">0.5</text>
<text x="54.1" y="116.84" text-anchor="end" font-size="17">0.6</text>
<text x="54.1" y="73.58" text-anchor="end" font-size="17">0.7</text>
<text x="54.1" y="30.32" text-anchor="end" font-size="17">0.8</text>
<text x="66.25" y="395.9" text-anchor="middle" font-size="17">4000</text>
<text x="131.44" y="395.9" text-anchor="middle" font-size="17">3500</text>
<text x="196.63" y="395.9" text-anchor="middle" font-size="17">3000</text>
<text x="261.82" y="395.9" text-anchor="middle" font-size="17">2500</text>
<text x="327.01" y="395.9" text-anchor="middle" font-size="17">2000</text>
<text x="392.20" y="395.9" text-anchor="middle" font-size="17"><tspan class="o" font-size="15.61">1</tspan>500</text>
<text x="457.39" y="395.9" text-anchor="middle" font-size="17"><tspan class="o" font-size="15.61">1</tspan>000</text>
<text x="522.58" y="395.9" text-anchor="middle" font-size="17">500</text>
<text x="207.4" y="434.5" font-size="20.25">Wavenumber (cm<tspan dy="-7.7">−<tspan class="o" font-size="18.59">1</tspan></tspan><tspan dy="7.7" dx="0.9">)</tspan></text>
<text transform="translate(23.0,244.4) rotate(-90)" font-size="20.25">Abs. (a.u.)</text>
<line x1="87.0" y1="35.90" x2="126.5" y2="35.90" stroke="#000000" stroke-width="2.2"/>
<text x="131.6" y="41.6" font-size="17">Fe<tspan font-size="11" dy="4.9">3</tspan><tspan dy="-4.9">O</tspan><tspan font-size="11" dy="4.9">4</tspan><tspan dy="-4.9">-SBA<tspan class="o" font-size="15.61">1</tspan>5</tspan></text>
<line x1="87.0" y1="61.35" x2="126.5" y2="61.35" stroke="#ff0000" stroke-width="2.2"/>
<text x="131.6" y="67.1" font-size="17">Fe<tspan font-size="11" dy="4.9">3</tspan><tspan dy="-4.9">O</tspan><tspan font-size="11" dy="4.9">4</tspan><tspan dy="-4.9">-SBA<tspan class="o" font-size="15.61">1</tspan>5-COOH-0.05</tspan></text>
<line x1="87.0" y1="86.80" x2="126.5" y2="86.80" stroke="#0000ff" stroke-width="2.2"/>
<text x="131.6" y="92.5" font-size="17">Fe<tspan font-size="11" dy="4.9">3</tspan><tspan dy="-4.9">O</tspan><tspan font-size="11" dy="4.9">4</tspan><tspan dy="-4.9">-SBA<tspan class="o" font-size="15.61">1</tspan>5-COOH-0.<tspan class="o" font-size="15.61">1</tspan></tspan></text>
<text x="141.1" y="168.5" text-anchor="middle" font-size="17">3435</text>
<text x="188.8" y="182.7" text-anchor="middle" font-size="17">2923</text>
<text x="239.3" y="192.3" text-anchor="middle" font-size="17">2856</text>
<text x="340.3" y="193.9" text-anchor="middle" font-size="17"><tspan class="o" font-size="15.61">1</tspan>72<tspan class="o" font-size="15.61">1</tspan></text>
<text x="379.1" y="176.0" text-anchor="middle" font-size="17"><tspan class="o" font-size="15.61">1</tspan>632</text>
<text x="405.9" y="194.7" text-anchor="middle" font-size="17"><tspan class="o" font-size="15.61">1</tspan>400</text>
<text x="442.4" y="21.0" text-anchor="middle" font-size="17"><tspan class="o" font-size="15.61">1</tspan>084</text>
<text x="474.3" y="193.6" text-anchor="middle" font-size="17">800</text>
<text x="507.0" y="181.9" text-anchor="middle" font-size="17">580</text>
<text x="525.5" y="151.3" text-anchor="middle" font-size="17">465</text>
<line x1="188.20" y1="187.10" x2="197.20" y2="199.10" stroke="#000" stroke-width="1.1"/>
<path d="M202.90,206.70 L195.12,200.66 L199.28,197.54 Z" fill="#000"/>
<line x1="233.40" y1="196.40" x2="225.94" y2="202.75" stroke="#000" stroke-width="1.1"/>
<path d="M218.70,208.90 L224.25,200.77 L227.62,204.73 Z" fill="#000"/>
<line x1="342.60" y1="198.90" x2="354.48" y2="210.78" stroke="#000" stroke-width="1.1"/>
<path d="M361.20,217.50 L352.64,212.62 L356.32,208.94 Z" fill="#000"/>
<line x1="383.00" y1="181.60" x2="377.88" y2="202.28" stroke="#000" stroke-width="1.1"/>
<path d="M375.60,211.50 L375.36,201.65 L380.41,202.90 Z" fill="#000"/>
<line x1="408.90" y1="198.90" x2="407.74" y2="205.93" stroke="#000" stroke-width="1.1"/>
<path d="M406.20,215.30 L405.18,205.50 L410.31,206.35 Z" fill="#000"/>
<line x1="446.60" y1="23.20" x2="446.60" y2="27.40" stroke="#000" stroke-width="1.1"/>
<path d="M446.60,36.90 L444.00,27.40 L449.20,27.40 Z" fill="#000"/>
<line x1="473.00" y1="199.90" x2="477.07" y2="206.44" stroke="#000" stroke-width="1.1"/>
<path d="M482.10,214.50 L474.87,207.81 L479.28,205.06 Z" fill="#000"/>
<line x1="507.60" y1="186.90" x2="509.30" y2="192.42" stroke="#000" stroke-width="1.1"/>
<path d="M512.10,201.50 L506.82,193.19 L511.79,191.66 Z" fill="#000"/>
<line x1="525.60" y1="155.50" x2="526.47" y2="171.01" stroke="#000" stroke-width="1.1"/>
<path d="M527.00,180.50 L523.87,171.16 L529.06,170.87 Z" fill="#000"/>
</svg>
</body></html>
